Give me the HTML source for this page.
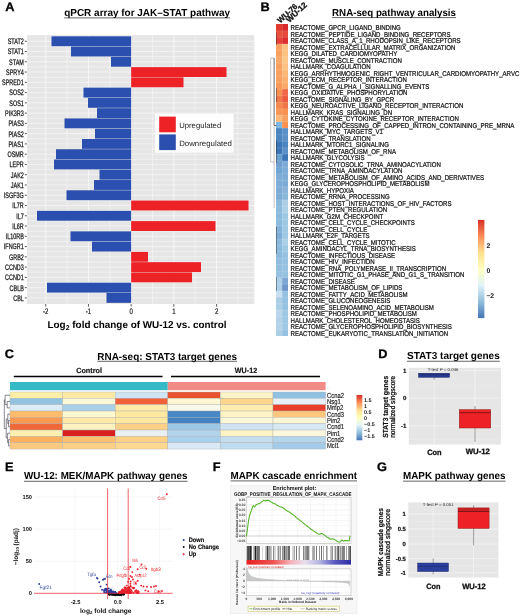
<!DOCTYPE html>
<html lang="en"><head><meta charset="utf-8"><title>Figure</title>
<style>html,body{margin:0;padding:0;background:#fff}body{width:520px;height:616px;overflow:hidden}svg{display:block;font-family:"Liberation Sans", Arial, Helvetica, sans-serif;text-rendering:geometricPrecision}</style>
</head><body>
<svg width="520" height="616" viewBox="0 0 520 616">
<rect x="0.00" y="0.00" width="520.00" height="616.00" fill="#fff"/>
<text x="5.20" y="11.40" font-size="12.3" font-weight="bold" textLength="9.24" lengthAdjust="spacingAndGlyphs" stroke="#000" stroke-width="0.3">A</text>
<text x="64.20" y="15.90" font-size="10.2" font-weight="bold" textLength="165.80" lengthAdjust="spacingAndGlyphs">qPCR array for JAK–STAT pathway</text>
<line x1="64.20" y1="17.90" x2="230.00" y2="17.90" stroke="#222" stroke-width="0.7"/>
<rect x="27.00" y="35.10" width="227.30" height="268.90" fill="#e6e6e6"/>
<line x1="24.40" y1="35.10" x2="24.40" y2="304.00" stroke="#f6f6f6" stroke-width="0.6"/>
<line x1="67.10" y1="35.10" x2="67.10" y2="304.00" stroke="#f6f6f6" stroke-width="0.6"/>
<line x1="109.80" y1="35.10" x2="109.80" y2="304.00" stroke="#f6f6f6" stroke-width="0.6"/>
<line x1="152.50" y1="35.10" x2="152.50" y2="304.00" stroke="#f6f6f6" stroke-width="0.6"/>
<line x1="195.20" y1="35.10" x2="195.20" y2="304.00" stroke="#f6f6f6" stroke-width="0.6"/>
<line x1="237.90" y1="35.10" x2="237.90" y2="304.00" stroke="#f6f6f6" stroke-width="0.6"/>
<line x1="45.75" y1="35.10" x2="45.75" y2="304.00" stroke="#fafafa" stroke-width="0.8"/>
<line x1="88.45" y1="35.10" x2="88.45" y2="304.00" stroke="#fafafa" stroke-width="0.8"/>
<line x1="131.15" y1="35.10" x2="131.15" y2="304.00" stroke="#fafafa" stroke-width="0.8"/>
<line x1="173.85" y1="35.10" x2="173.85" y2="304.00" stroke="#fafafa" stroke-width="0.8"/>
<line x1="216.55" y1="35.10" x2="216.55" y2="304.00" stroke="#fafafa" stroke-width="0.8"/>
<line x1="27.00" y1="41.25" x2="254.30" y2="41.25" stroke="#f8f8f8" stroke-width="0.7"/>
<line x1="27.00" y1="51.52" x2="254.30" y2="51.52" stroke="#f8f8f8" stroke-width="0.7"/>
<line x1="27.00" y1="46.38" x2="254.30" y2="46.38" stroke="#f6f6f6" stroke-width="0.6"/>
<line x1="27.00" y1="61.78" x2="254.30" y2="61.78" stroke="#f8f8f8" stroke-width="0.7"/>
<line x1="27.00" y1="56.65" x2="254.30" y2="56.65" stroke="#f6f6f6" stroke-width="0.6"/>
<line x1="27.00" y1="72.05" x2="254.30" y2="72.05" stroke="#f8f8f8" stroke-width="0.7"/>
<line x1="27.00" y1="66.92" x2="254.30" y2="66.92" stroke="#f6f6f6" stroke-width="0.6"/>
<line x1="27.00" y1="82.31" x2="254.30" y2="82.31" stroke="#f8f8f8" stroke-width="0.7"/>
<line x1="27.00" y1="77.18" x2="254.30" y2="77.18" stroke="#f6f6f6" stroke-width="0.6"/>
<line x1="27.00" y1="92.58" x2="254.30" y2="92.58" stroke="#f8f8f8" stroke-width="0.7"/>
<line x1="27.00" y1="87.45" x2="254.30" y2="87.45" stroke="#f6f6f6" stroke-width="0.6"/>
<line x1="27.00" y1="102.85" x2="254.30" y2="102.85" stroke="#f8f8f8" stroke-width="0.7"/>
<line x1="27.00" y1="97.71" x2="254.30" y2="97.71" stroke="#f6f6f6" stroke-width="0.6"/>
<line x1="27.00" y1="113.11" x2="254.30" y2="113.11" stroke="#f8f8f8" stroke-width="0.7"/>
<line x1="27.00" y1="107.98" x2="254.30" y2="107.98" stroke="#f6f6f6" stroke-width="0.6"/>
<line x1="27.00" y1="123.38" x2="254.30" y2="123.38" stroke="#f8f8f8" stroke-width="0.7"/>
<line x1="27.00" y1="118.25" x2="254.30" y2="118.25" stroke="#f6f6f6" stroke-width="0.6"/>
<line x1="27.00" y1="133.64" x2="254.30" y2="133.64" stroke="#f8f8f8" stroke-width="0.7"/>
<line x1="27.00" y1="128.51" x2="254.30" y2="128.51" stroke="#f6f6f6" stroke-width="0.6"/>
<line x1="27.00" y1="143.91" x2="254.30" y2="143.91" stroke="#f8f8f8" stroke-width="0.7"/>
<line x1="27.00" y1="138.78" x2="254.30" y2="138.78" stroke="#f6f6f6" stroke-width="0.6"/>
<line x1="27.00" y1="154.18" x2="254.30" y2="154.18" stroke="#f8f8f8" stroke-width="0.7"/>
<line x1="27.00" y1="149.04" x2="254.30" y2="149.04" stroke="#f6f6f6" stroke-width="0.6"/>
<line x1="27.00" y1="164.44" x2="254.30" y2="164.44" stroke="#f8f8f8" stroke-width="0.7"/>
<line x1="27.00" y1="159.31" x2="254.30" y2="159.31" stroke="#f6f6f6" stroke-width="0.6"/>
<line x1="27.00" y1="174.71" x2="254.30" y2="174.71" stroke="#f8f8f8" stroke-width="0.7"/>
<line x1="27.00" y1="169.57" x2="254.30" y2="169.57" stroke="#f6f6f6" stroke-width="0.6"/>
<line x1="27.00" y1="184.97" x2="254.30" y2="184.97" stroke="#f8f8f8" stroke-width="0.7"/>
<line x1="27.00" y1="179.84" x2="254.30" y2="179.84" stroke="#f6f6f6" stroke-width="0.6"/>
<line x1="27.00" y1="195.24" x2="254.30" y2="195.24" stroke="#f8f8f8" stroke-width="0.7"/>
<line x1="27.00" y1="190.11" x2="254.30" y2="190.11" stroke="#f6f6f6" stroke-width="0.6"/>
<line x1="27.00" y1="205.51" x2="254.30" y2="205.51" stroke="#f8f8f8" stroke-width="0.7"/>
<line x1="27.00" y1="200.37" x2="254.30" y2="200.37" stroke="#f6f6f6" stroke-width="0.6"/>
<line x1="27.00" y1="215.77" x2="254.30" y2="215.77" stroke="#f8f8f8" stroke-width="0.7"/>
<line x1="27.00" y1="210.64" x2="254.30" y2="210.64" stroke="#f6f6f6" stroke-width="0.6"/>
<line x1="27.00" y1="226.04" x2="254.30" y2="226.04" stroke="#f8f8f8" stroke-width="0.7"/>
<line x1="27.00" y1="220.91" x2="254.30" y2="220.91" stroke="#f6f6f6" stroke-width="0.6"/>
<line x1="27.00" y1="236.30" x2="254.30" y2="236.30" stroke="#f8f8f8" stroke-width="0.7"/>
<line x1="27.00" y1="231.17" x2="254.30" y2="231.17" stroke="#f6f6f6" stroke-width="0.6"/>
<line x1="27.00" y1="246.57" x2="254.30" y2="246.57" stroke="#f8f8f8" stroke-width="0.7"/>
<line x1="27.00" y1="241.44" x2="254.30" y2="241.44" stroke="#f6f6f6" stroke-width="0.6"/>
<line x1="27.00" y1="256.84" x2="254.30" y2="256.84" stroke="#f8f8f8" stroke-width="0.7"/>
<line x1="27.00" y1="251.70" x2="254.30" y2="251.70" stroke="#f6f6f6" stroke-width="0.6"/>
<line x1="27.00" y1="267.10" x2="254.30" y2="267.10" stroke="#f8f8f8" stroke-width="0.7"/>
<line x1="27.00" y1="261.97" x2="254.30" y2="261.97" stroke="#f6f6f6" stroke-width="0.6"/>
<line x1="27.00" y1="277.37" x2="254.30" y2="277.37" stroke="#f8f8f8" stroke-width="0.7"/>
<line x1="27.00" y1="272.24" x2="254.30" y2="272.24" stroke="#f6f6f6" stroke-width="0.6"/>
<line x1="27.00" y1="287.63" x2="254.30" y2="287.63" stroke="#f8f8f8" stroke-width="0.7"/>
<line x1="27.00" y1="282.50" x2="254.30" y2="282.50" stroke="#f6f6f6" stroke-width="0.6"/>
<line x1="27.00" y1="297.90" x2="254.30" y2="297.90" stroke="#f8f8f8" stroke-width="0.7"/>
<line x1="27.00" y1="292.77" x2="254.30" y2="292.77" stroke="#f6f6f6" stroke-width="0.6"/>
<rect x="51.50" y="36.32" width="79.65" height="9.87" fill="#2b4fae"/>
<text x="23.80" y="44.15" font-size="8" text-anchor="end" fill="#111" textLength="16.12" lengthAdjust="spacingAndGlyphs" stroke="#111" stroke-width="0.25">STAT2</text>
<line x1="24.80" y1="41.25" x2="26.90" y2="41.25" stroke="#333" stroke-width="0.8"/>
<rect x="71.00" y="46.58" width="60.15" height="9.87" fill="#2b4fae"/>
<text x="23.80" y="54.42" font-size="8" text-anchor="end" fill="#111" textLength="16.12" lengthAdjust="spacingAndGlyphs" stroke="#111" stroke-width="0.25">STAT1</text>
<line x1="24.80" y1="51.52" x2="26.90" y2="51.52" stroke="#333" stroke-width="0.8"/>
<rect x="111.00" y="56.85" width="20.15" height="9.87" fill="#2b4fae"/>
<text x="23.80" y="64.68" font-size="8" text-anchor="end" fill="#111" textLength="14.71" lengthAdjust="spacingAndGlyphs" stroke="#111" stroke-width="0.25">STAM</text>
<line x1="24.80" y1="61.78" x2="26.90" y2="61.78" stroke="#333" stroke-width="0.8"/>
<rect x="131.15" y="67.12" width="95.35" height="9.87" fill="#ec2227"/>
<text x="23.80" y="74.95" font-size="8" text-anchor="end" fill="#111" textLength="17.74" lengthAdjust="spacingAndGlyphs" stroke="#111" stroke-width="0.25">SPRY4</text>
<line x1="24.80" y1="72.05" x2="26.90" y2="72.05" stroke="#333" stroke-width="0.8"/>
<rect x="131.15" y="77.38" width="52.35" height="9.87" fill="#ec2227"/>
<text x="23.80" y="85.21" font-size="8" text-anchor="end" fill="#111" textLength="21.77" lengthAdjust="spacingAndGlyphs" stroke="#111" stroke-width="0.25">SPRED1</text>
<line x1="24.80" y1="82.31" x2="26.90" y2="82.31" stroke="#333" stroke-width="0.8"/>
<rect x="83.50" y="87.65" width="47.65" height="9.87" fill="#2b4fae"/>
<text x="23.80" y="95.48" font-size="8" text-anchor="end" fill="#111" textLength="14.51" lengthAdjust="spacingAndGlyphs" stroke="#111" stroke-width="0.25">SOS2</text>
<line x1="24.80" y1="92.58" x2="26.90" y2="92.58" stroke="#333" stroke-width="0.8"/>
<rect x="88.00" y="97.91" width="43.15" height="9.87" fill="#2b4fae"/>
<text x="23.80" y="105.75" font-size="8" text-anchor="end" fill="#111" textLength="14.51" lengthAdjust="spacingAndGlyphs" stroke="#111" stroke-width="0.25">SOS1</text>
<line x1="24.80" y1="102.85" x2="26.90" y2="102.85" stroke="#333" stroke-width="0.8"/>
<rect x="97.00" y="108.18" width="34.15" height="9.87" fill="#2b4fae"/>
<text x="23.80" y="116.01" font-size="8" text-anchor="end" fill="#111" textLength="18.75" lengthAdjust="spacingAndGlyphs" stroke="#111" stroke-width="0.25">PIK3R3</text>
<line x1="24.80" y1="113.11" x2="26.90" y2="113.11" stroke="#333" stroke-width="0.8"/>
<rect x="64.50" y="118.44" width="66.65" height="9.87" fill="#2b4fae"/>
<text x="23.80" y="126.28" font-size="8" text-anchor="end" fill="#111" textLength="15.42" lengthAdjust="spacingAndGlyphs" stroke="#111" stroke-width="0.25">PIAS3</text>
<line x1="24.80" y1="123.38" x2="26.90" y2="123.38" stroke="#333" stroke-width="0.8"/>
<rect x="95.00" y="128.71" width="36.15" height="9.87" fill="#2b4fae"/>
<text x="23.80" y="136.54" font-size="8" text-anchor="end" fill="#111" textLength="15.42" lengthAdjust="spacingAndGlyphs" stroke="#111" stroke-width="0.25">PIAS2</text>
<line x1="24.80" y1="133.64" x2="26.90" y2="133.64" stroke="#333" stroke-width="0.8"/>
<rect x="82.00" y="138.98" width="49.15" height="9.87" fill="#2b4fae"/>
<text x="23.80" y="146.81" font-size="8" text-anchor="end" fill="#111" textLength="15.42" lengthAdjust="spacingAndGlyphs" stroke="#111" stroke-width="0.25">PIAS1</text>
<line x1="24.80" y1="143.91" x2="26.90" y2="143.91" stroke="#333" stroke-width="0.8"/>
<rect x="56.00" y="149.24" width="75.15" height="9.87" fill="#2b4fae"/>
<text x="23.80" y="157.08" font-size="8" text-anchor="end" fill="#111" textLength="16.32" lengthAdjust="spacingAndGlyphs" stroke="#111" stroke-width="0.25">OSMR</text>
<line x1="24.80" y1="154.18" x2="26.90" y2="154.18" stroke="#333" stroke-width="0.8"/>
<rect x="54.00" y="159.51" width="77.15" height="9.87" fill="#2b4fae"/>
<text x="23.80" y="167.34" font-size="8" text-anchor="end" fill="#111" textLength="14.21" lengthAdjust="spacingAndGlyphs" stroke="#111" stroke-width="0.25">LEPR</text>
<line x1="24.80" y1="164.44" x2="26.90" y2="164.44" stroke="#333" stroke-width="0.8"/>
<rect x="99.50" y="169.78" width="31.65" height="9.87" fill="#2b4fae"/>
<text x="23.80" y="177.61" font-size="8" text-anchor="end" fill="#111" textLength="13.00" lengthAdjust="spacingAndGlyphs" stroke="#111" stroke-width="0.25">JAK2</text>
<line x1="24.80" y1="174.71" x2="26.90" y2="174.71" stroke="#333" stroke-width="0.8"/>
<rect x="94.00" y="180.04" width="37.15" height="9.87" fill="#2b4fae"/>
<text x="23.80" y="187.87" font-size="8" text-anchor="end" fill="#111" textLength="13.00" lengthAdjust="spacingAndGlyphs" stroke="#111" stroke-width="0.25">JAK1</text>
<line x1="24.80" y1="184.97" x2="26.90" y2="184.97" stroke="#333" stroke-width="0.8"/>
<rect x="66.50" y="190.31" width="64.65" height="9.87" fill="#2b4fae"/>
<text x="23.80" y="198.14" font-size="8" text-anchor="end" fill="#111" textLength="19.95" lengthAdjust="spacingAndGlyphs" stroke="#111" stroke-width="0.25">ISGF3G</text>
<line x1="24.80" y1="195.24" x2="26.90" y2="195.24" stroke="#333" stroke-width="0.8"/>
<rect x="131.15" y="200.57" width="117.35" height="9.87" fill="#ec2227"/>
<text x="23.80" y="208.41" font-size="8" text-anchor="end" fill="#111" textLength="11.49" lengthAdjust="spacingAndGlyphs" stroke="#111" stroke-width="0.25">IL7R</text>
<line x1="24.80" y1="205.51" x2="26.90" y2="205.51" stroke="#333" stroke-width="0.8"/>
<rect x="37.00" y="210.84" width="94.15" height="9.87" fill="#2b4fae"/>
<text x="23.80" y="218.67" font-size="8" text-anchor="end" fill="#111" textLength="7.56" lengthAdjust="spacingAndGlyphs" stroke="#111" stroke-width="0.25">IL7</text>
<line x1="24.80" y1="215.77" x2="26.90" y2="215.77" stroke="#333" stroke-width="0.8"/>
<rect x="131.15" y="221.11" width="84.35" height="9.87" fill="#ec2227"/>
<text x="23.80" y="228.94" font-size="8" text-anchor="end" fill="#111" textLength="11.49" lengthAdjust="spacingAndGlyphs" stroke="#111" stroke-width="0.25">IL6R</text>
<line x1="24.80" y1="226.04" x2="26.90" y2="226.04" stroke="#333" stroke-width="0.8"/>
<rect x="70.50" y="231.37" width="60.65" height="9.87" fill="#2b4fae"/>
<text x="23.80" y="239.20" font-size="8" text-anchor="end" fill="#111" textLength="18.15" lengthAdjust="spacingAndGlyphs" stroke="#111" stroke-width="0.25">IL10RB</text>
<line x1="24.80" y1="236.30" x2="26.90" y2="236.30" stroke="#333" stroke-width="0.8"/>
<rect x="92.00" y="241.64" width="39.15" height="9.87" fill="#2b4fae"/>
<text x="23.80" y="249.47" font-size="8" text-anchor="end" fill="#111" textLength="19.95" lengthAdjust="spacingAndGlyphs" stroke="#111" stroke-width="0.25">IFNGR1</text>
<line x1="24.80" y1="246.57" x2="26.90" y2="246.57" stroke="#333" stroke-width="0.8"/>
<rect x="131.15" y="251.90" width="16.85" height="9.87" fill="#ec2227"/>
<text x="23.80" y="259.74" font-size="8" text-anchor="end" fill="#111" textLength="14.81" lengthAdjust="spacingAndGlyphs" stroke="#111" stroke-width="0.25">GRB2</text>
<line x1="24.80" y1="256.84" x2="26.90" y2="256.84" stroke="#333" stroke-width="0.8"/>
<rect x="131.15" y="262.17" width="69.85" height="9.87" fill="#ec2227"/>
<text x="23.80" y="270.00" font-size="8" text-anchor="end" fill="#111" textLength="18.74" lengthAdjust="spacingAndGlyphs" stroke="#111" stroke-width="0.25">CCND3</text>
<line x1="24.80" y1="267.10" x2="26.90" y2="267.10" stroke="#333" stroke-width="0.8"/>
<rect x="131.15" y="272.44" width="60.85" height="9.87" fill="#ec2227"/>
<text x="23.80" y="280.27" font-size="8" text-anchor="end" fill="#111" textLength="18.74" lengthAdjust="spacingAndGlyphs" stroke="#111" stroke-width="0.25">CCND1</text>
<line x1="24.80" y1="277.37" x2="26.90" y2="277.37" stroke="#333" stroke-width="0.8"/>
<rect x="47.00" y="282.70" width="84.15" height="9.87" fill="#2b4fae"/>
<text x="23.80" y="290.53" font-size="8" text-anchor="end" fill="#111" textLength="14.21" lengthAdjust="spacingAndGlyphs" stroke="#111" stroke-width="0.25">CBLB</text>
<line x1="24.80" y1="287.63" x2="26.90" y2="287.63" stroke="#333" stroke-width="0.8"/>
<rect x="106.50" y="292.97" width="24.65" height="9.87" fill="#2b4fae"/>
<text x="23.80" y="300.80" font-size="8" text-anchor="end" fill="#111" textLength="10.58" lengthAdjust="spacingAndGlyphs" stroke="#111" stroke-width="0.25">CBL</text>
<line x1="24.80" y1="297.90" x2="26.90" y2="297.90" stroke="#333" stroke-width="0.8"/>
<line x1="45.75" y1="304.00" x2="45.75" y2="306.60" stroke="#333" stroke-width="0.8"/>
<text x="45.75" y="314.10" font-size="8" text-anchor="middle" fill="#111" textLength="5.34" lengthAdjust="spacingAndGlyphs" stroke="#111" stroke-width="0.2">-2</text>
<line x1="88.45" y1="304.00" x2="88.45" y2="306.60" stroke="#333" stroke-width="0.8"/>
<text x="88.45" y="314.10" font-size="8" text-anchor="middle" fill="#111" textLength="5.34" lengthAdjust="spacingAndGlyphs" stroke="#111" stroke-width="0.2">-1</text>
<line x1="131.15" y1="304.00" x2="131.15" y2="306.60" stroke="#333" stroke-width="0.8"/>
<text x="131.15" y="314.10" font-size="8" text-anchor="middle" fill="#111" textLength="3.34" lengthAdjust="spacingAndGlyphs" stroke="#111" stroke-width="0.2">0</text>
<line x1="173.85" y1="304.00" x2="173.85" y2="306.60" stroke="#333" stroke-width="0.8"/>
<text x="173.85" y="314.10" font-size="8" text-anchor="middle" fill="#111" textLength="3.34" lengthAdjust="spacingAndGlyphs" stroke="#111" stroke-width="0.2">1</text>
<line x1="216.55" y1="304.00" x2="216.55" y2="306.60" stroke="#333" stroke-width="0.8"/>
<text x="216.55" y="314.10" font-size="8" text-anchor="middle" fill="#111" textLength="3.34" lengthAdjust="spacingAndGlyphs" stroke="#111" stroke-width="0.2">2</text>
<text x="47.5" y="327.6" font-size="10" font-weight="bold" textLength="179" lengthAdjust="spacingAndGlyphs">Log<tspan font-size="7" dy="2.2">2</tspan><tspan dy="-2.2"> fold change of WU-12 vs. control</tspan></text>
<rect x="155.00" y="113.80" width="78.50" height="38.80" fill="#fdfdfd"/>
<rect x="159.20" y="116.60" width="16.60" height="15.70" fill="#ec2227"/>
<rect x="159.20" y="134.40" width="16.60" height="15.70" fill="#2b4fae"/>
<text x="179.20" y="128.20" font-size="7.8" fill="#222" textLength="42.00" lengthAdjust="spacingAndGlyphs">Upregulated</text>
<text x="179.20" y="146.00" font-size="7.8" fill="#222" textLength="52.70" lengthAdjust="spacingAndGlyphs">Downregulated</text>
<text x="260.40" y="11.20" font-size="12.3" font-weight="bold" textLength="9.24" lengthAdjust="spacingAndGlyphs" stroke="#000" stroke-width="0.3">B</text>
<text x="332.10" y="15.80" font-size="10.2" font-weight="bold" textLength="123.90" lengthAdjust="spacingAndGlyphs">RNA-seq pathway analysis</text>
<line x1="332.10" y1="17.60" x2="456.00" y2="17.60" stroke="#222" stroke-width="0.7"/>
<g shape-rendering="crispEdges">
<rect x="276.40" y="24.30" width="6.00" height="6.55" fill="#e03a30"/>
<rect x="282.40" y="24.30" width="6.00" height="6.55" fill="#d8282a"/>
<rect x="276.40" y="30.80" width="6.00" height="6.55" fill="#e8503c"/>
<rect x="282.40" y="30.80" width="6.00" height="6.55" fill="#e4483a"/>
<rect x="276.40" y="37.30" width="6.00" height="6.55" fill="#e44038"/>
<rect x="282.40" y="37.30" width="6.00" height="6.55" fill="#dc3030"/>
<rect x="276.40" y="43.80" width="6.00" height="6.55" fill="#f8a060"/>
<rect x="282.40" y="43.80" width="6.00" height="6.55" fill="#fcc080"/>
<rect x="276.40" y="50.30" width="6.00" height="6.55" fill="#f8a060"/>
<rect x="282.40" y="50.30" width="6.00" height="6.55" fill="#fcc080"/>
<rect x="276.40" y="56.80" width="6.00" height="6.55" fill="#f8a868"/>
<rect x="282.40" y="56.80" width="6.00" height="6.55" fill="#fcc888"/>
<rect x="276.40" y="63.30" width="6.00" height="6.55" fill="#f8a060"/>
<rect x="282.40" y="63.30" width="6.00" height="6.55" fill="#fcc080"/>
<rect x="276.40" y="69.80" width="6.00" height="6.55" fill="#f8a060"/>
<rect x="282.40" y="69.80" width="6.00" height="6.55" fill="#fcb878"/>
<rect x="276.40" y="76.30" width="6.00" height="6.55" fill="#f8a060"/>
<rect x="282.40" y="76.30" width="6.00" height="6.55" fill="#fcb070"/>
<rect x="276.40" y="82.80" width="6.00" height="6.55" fill="#f89858"/>
<rect x="282.40" y="82.80" width="6.00" height="6.55" fill="#f8a868"/>
<rect x="276.40" y="89.30" width="6.00" height="6.55" fill="#f89050"/>
<rect x="282.40" y="89.30" width="6.00" height="6.55" fill="#f06848"/>
<rect x="276.40" y="95.80" width="6.00" height="6.55" fill="#f07848"/>
<rect x="282.40" y="95.80" width="6.00" height="6.55" fill="#ec5840"/>
<rect x="276.40" y="102.30" width="6.00" height="6.55" fill="#f48850"/>
<rect x="282.40" y="102.30" width="6.00" height="6.55" fill="#f07848"/>
<rect x="276.40" y="108.80" width="6.00" height="6.55" fill="#f89858"/>
<rect x="282.40" y="108.80" width="6.00" height="6.55" fill="#f89050"/>
<rect x="276.40" y="115.30" width="6.00" height="6.55" fill="#fcb878"/>
<rect x="282.40" y="115.30" width="6.00" height="6.55" fill="#f8a060"/>
<rect x="276.40" y="121.80" width="6.00" height="6.55" fill="#7ab8e4"/>
<rect x="282.40" y="121.80" width="6.00" height="6.55" fill="#f89050"/>
<rect x="276.40" y="128.30" width="6.00" height="6.55" fill="#4a86c0"/>
<rect x="282.40" y="128.30" width="6.00" height="6.55" fill="#5a90c8"/>
<rect x="276.40" y="134.80" width="6.00" height="6.55" fill="#4a86c0"/>
<rect x="282.40" y="134.80" width="6.00" height="6.55" fill="#5a90c8"/>
<rect x="276.40" y="141.30" width="6.00" height="6.55" fill="#3a76b8"/>
<rect x="282.40" y="141.30" width="6.00" height="6.55" fill="#4a86c0"/>
<rect x="276.40" y="147.80" width="6.00" height="6.55" fill="#3a76b8"/>
<rect x="282.40" y="147.80" width="6.00" height="6.55" fill="#5a90c8"/>
<rect x="276.40" y="154.30" width="6.00" height="6.55" fill="#6aa0d0"/>
<rect x="282.40" y="154.30" width="6.00" height="6.55" fill="#3a76b8"/>
<rect x="276.40" y="160.80" width="6.00" height="6.55" fill="#6f9ecf"/>
<rect x="282.40" y="160.80" width="6.00" height="6.55" fill="#7dacd6"/>
<rect x="276.40" y="167.30" width="6.00" height="6.55" fill="#6fa5d3"/>
<rect x="282.40" y="167.30" width="6.00" height="6.55" fill="#7dacd6"/>
<rect x="276.40" y="173.80" width="6.00" height="6.55" fill="#7dacd6"/>
<rect x="282.40" y="173.80" width="6.00" height="6.55" fill="#7dacd6"/>
<rect x="276.40" y="180.30" width="6.00" height="6.55" fill="#7dacd6"/>
<rect x="282.40" y="180.30" width="6.00" height="6.55" fill="#7dacd6"/>
<rect x="276.40" y="186.80" width="6.00" height="6.55" fill="#7dacd6"/>
<rect x="282.40" y="186.80" width="6.00" height="6.55" fill="#8bb3da"/>
<rect x="276.40" y="193.30" width="6.00" height="6.55" fill="#7dacd6"/>
<rect x="282.40" y="193.30" width="6.00" height="6.55" fill="#8bb7db"/>
<rect x="276.40" y="199.80" width="6.00" height="6.55" fill="#8bbadd"/>
<rect x="282.40" y="199.80" width="6.00" height="6.55" fill="#accfe8"/>
<rect x="276.40" y="206.30" width="6.00" height="6.55" fill="#8bbadd"/>
<rect x="282.40" y="206.30" width="6.00" height="6.55" fill="#accfe8"/>
<rect x="276.40" y="212.80" width="6.00" height="6.55" fill="#8bbadd"/>
<rect x="282.40" y="212.80" width="6.00" height="6.55" fill="#9ec8e4"/>
<rect x="276.40" y="219.30" width="6.00" height="6.55" fill="#8bbadd"/>
<rect x="282.40" y="219.30" width="6.00" height="6.55" fill="#9ec8e4"/>
<rect x="276.40" y="225.80" width="6.00" height="6.55" fill="#84b3da"/>
<rect x="282.40" y="225.80" width="6.00" height="6.55" fill="#9ec8e4"/>
<rect x="276.40" y="232.30" width="6.00" height="6.55" fill="#7dacd6"/>
<rect x="282.40" y="232.30" width="6.00" height="6.55" fill="#9ec8e4"/>
<rect x="276.40" y="238.80" width="6.00" height="6.55" fill="#8bbadd"/>
<rect x="282.40" y="238.80" width="6.00" height="6.55" fill="#accfe8"/>
<rect x="276.40" y="245.30" width="6.00" height="6.55" fill="#8bbadd"/>
<rect x="282.40" y="245.30" width="6.00" height="6.55" fill="#9ec8e4"/>
<rect x="276.40" y="251.80" width="6.00" height="6.55" fill="#8bbadd"/>
<rect x="282.40" y="251.80" width="6.00" height="6.55" fill="#97c1e1"/>
<rect x="276.40" y="258.30" width="6.00" height="6.55" fill="#91bedf"/>
<rect x="282.40" y="258.30" width="6.00" height="6.55" fill="#97c1e1"/>
<rect x="276.40" y="264.80" width="6.00" height="6.55" fill="#91bedf"/>
<rect x="282.40" y="264.80" width="6.00" height="6.55" fill="#97c1e1"/>
<rect x="276.40" y="271.30" width="6.00" height="6.55" fill="#97c1e1"/>
<rect x="282.40" y="271.30" width="6.00" height="6.55" fill="#97c1e1"/>
<rect x="276.40" y="277.80" width="6.00" height="6.55" fill="#accfe8"/>
<rect x="282.40" y="277.80" width="6.00" height="6.55" fill="#7da5d3"/>
<rect x="276.40" y="284.30" width="6.00" height="6.55" fill="#accfe8"/>
<rect x="282.40" y="284.30" width="6.00" height="6.55" fill="#6f97cc"/>
<rect x="276.40" y="290.80" width="6.00" height="6.55" fill="#c8e1f2"/>
<rect x="282.40" y="290.80" width="6.00" height="6.55" fill="#97c1e1"/>
<rect x="276.40" y="297.30" width="6.00" height="6.55" fill="#accfe8"/>
<rect x="282.40" y="297.30" width="6.00" height="6.55" fill="#97c1e1"/>
<rect x="276.40" y="303.80" width="6.00" height="6.55" fill="#accfe8"/>
<rect x="282.40" y="303.80" width="6.00" height="6.55" fill="#97c1e1"/>
<rect x="276.40" y="310.30" width="6.00" height="6.55" fill="#bad6eb"/>
<rect x="282.40" y="310.30" width="6.00" height="6.55" fill="#9ec8e4"/>
<rect x="276.40" y="316.80" width="6.00" height="6.55" fill="#b3d3e9"/>
<rect x="282.40" y="316.80" width="6.00" height="6.55" fill="#9ec8e4"/>
<rect x="276.40" y="323.30" width="6.00" height="6.55" fill="#b3d3e9"/>
<rect x="282.40" y="323.30" width="6.00" height="6.55" fill="#9ec8e4"/>
<rect x="276.40" y="329.80" width="6.00" height="6.55" fill="#accfe8"/>
<rect x="282.40" y="329.80" width="6.00" height="6.55" fill="#97c1e1"/>
</g>
<g stroke="#fff" stroke-opacity="0.28" stroke-width="0.5">
<line x1="276.4" y1="30.80" x2="288.4" y2="30.80"/>
<line x1="276.4" y1="37.30" x2="288.4" y2="37.30"/>
<line x1="276.4" y1="43.80" x2="288.4" y2="43.80"/>
<line x1="276.4" y1="50.30" x2="288.4" y2="50.30"/>
<line x1="276.4" y1="56.80" x2="288.4" y2="56.80"/>
<line x1="276.4" y1="63.30" x2="288.4" y2="63.30"/>
<line x1="276.4" y1="69.80" x2="288.4" y2="69.80"/>
<line x1="276.4" y1="76.30" x2="288.4" y2="76.30"/>
<line x1="276.4" y1="82.80" x2="288.4" y2="82.80"/>
<line x1="276.4" y1="89.30" x2="288.4" y2="89.30"/>
<line x1="276.4" y1="95.80" x2="288.4" y2="95.80"/>
<line x1="276.4" y1="102.30" x2="288.4" y2="102.30"/>
<line x1="276.4" y1="108.80" x2="288.4" y2="108.80"/>
<line x1="276.4" y1="115.30" x2="288.4" y2="115.30"/>
<line x1="276.4" y1="121.80" x2="288.4" y2="121.80"/>
<line x1="276.4" y1="128.30" x2="288.4" y2="128.30"/>
<line x1="276.4" y1="134.80" x2="288.4" y2="134.80"/>
<line x1="276.4" y1="141.30" x2="288.4" y2="141.30"/>
<line x1="276.4" y1="147.80" x2="288.4" y2="147.80"/>
<line x1="276.4" y1="154.30" x2="288.4" y2="154.30"/>
<line x1="276.4" y1="160.80" x2="288.4" y2="160.80"/>
<line x1="276.4" y1="167.30" x2="288.4" y2="167.30"/>
<line x1="276.4" y1="173.80" x2="288.4" y2="173.80"/>
<line x1="276.4" y1="180.30" x2="288.4" y2="180.30"/>
<line x1="276.4" y1="186.80" x2="288.4" y2="186.80"/>
<line x1="276.4" y1="193.30" x2="288.4" y2="193.30"/>
<line x1="276.4" y1="199.80" x2="288.4" y2="199.80"/>
<line x1="276.4" y1="206.30" x2="288.4" y2="206.30"/>
<line x1="276.4" y1="212.80" x2="288.4" y2="212.80"/>
<line x1="276.4" y1="219.30" x2="288.4" y2="219.30"/>
<line x1="276.4" y1="225.80" x2="288.4" y2="225.80"/>
<line x1="276.4" y1="232.30" x2="288.4" y2="232.30"/>
<line x1="276.4" y1="238.80" x2="288.4" y2="238.80"/>
<line x1="276.4" y1="245.30" x2="288.4" y2="245.30"/>
<line x1="276.4" y1="251.80" x2="288.4" y2="251.80"/>
<line x1="276.4" y1="258.30" x2="288.4" y2="258.30"/>
<line x1="276.4" y1="264.80" x2="288.4" y2="264.80"/>
<line x1="276.4" y1="271.30" x2="288.4" y2="271.30"/>
<line x1="276.4" y1="277.80" x2="288.4" y2="277.80"/>
<line x1="276.4" y1="284.30" x2="288.4" y2="284.30"/>
<line x1="276.4" y1="290.80" x2="288.4" y2="290.80"/>
<line x1="276.4" y1="297.30" x2="288.4" y2="297.30"/>
<line x1="276.4" y1="303.80" x2="288.4" y2="303.80"/>
<line x1="276.4" y1="310.30" x2="288.4" y2="310.30"/>
<line x1="276.4" y1="316.80" x2="288.4" y2="316.80"/>
<line x1="276.4" y1="323.30" x2="288.4" y2="323.30"/>
<line x1="276.4" y1="329.80" x2="288.4" y2="329.80"/>
<line x1="282.4" y1="24.3" x2="282.4" y2="336.3"/>
</g>
<g stroke="#111" stroke-width="0.22">
<text x="290.60" y="30.05" font-size="7" fill="#111" textLength="110.21" lengthAdjust="spacingAndGlyphs">REACTOME_GPCR_LIGAND_BINDING</text>
<text x="290.60" y="36.55" font-size="7" fill="#111" textLength="159.85" lengthAdjust="spacingAndGlyphs">REACTOME_PEPTIDE_LIGAND_BINDING_RECEPTORS</text>
<text x="290.60" y="43.05" font-size="7" fill="#111" textLength="170.02" lengthAdjust="spacingAndGlyphs">REACTOME_CLASS_A_1_RHODOPSIN_LIKE_RECEPTORS</text>
<text x="290.60" y="49.55" font-size="7" fill="#111" textLength="164.81" lengthAdjust="spacingAndGlyphs">REACTOME_EXTRACELLULAR_MATRIX_ORGANIZATION</text>
<text x="290.60" y="56.05" font-size="7" fill="#111" textLength="106.60" lengthAdjust="spacingAndGlyphs">KEGG_DILATED_CARDIOMYOPATHY</text>
<text x="290.60" y="62.55" font-size="7" fill="#111" textLength="111.22" lengthAdjust="spacingAndGlyphs">REACTOME_MUSCLE_CONTRACTION</text>
<text x="290.60" y="69.05" font-size="7" fill="#111" textLength="80.09" lengthAdjust="spacingAndGlyphs">HALLMARK_COAGULATION</text>
<text x="290.60" y="75.55" font-size="7" fill="#111" textLength="228.76" lengthAdjust="spacingAndGlyphs">KEGG_ARRHYTHMOGENIC_RIGHT_VENTRICULAR_CARDIOMYOPATHY_ARVC</text>
<text x="290.60" y="82.05" font-size="7" fill="#111" textLength="116.30" lengthAdjust="spacingAndGlyphs">KEGG_ECM_RECEPTOR_INTERACTION</text>
<text x="290.60" y="88.55" font-size="7" fill="#111" textLength="138.66" lengthAdjust="spacingAndGlyphs">REACTOME_G_ALPHA_I_SIGNALLING_EVENTS</text>
<text x="290.60" y="95.05" font-size="7" fill="#111" textLength="116.76" lengthAdjust="spacingAndGlyphs">KEGG_OXIDATIVE_PHOSPHORYLATION</text>
<text x="290.60" y="101.55" font-size="7" fill="#111" textLength="103.45" lengthAdjust="spacingAndGlyphs">REACTOME_SIGNALING_BY_GPCR</text>
<text x="290.60" y="108.05" font-size="7" fill="#111" textLength="172.82" lengthAdjust="spacingAndGlyphs">KEGG_NEUROACTIVE_LIGAND_RECEPTOR_INTERACTION</text>
<text x="290.60" y="114.55" font-size="7" fill="#111" textLength="101.54" lengthAdjust="spacingAndGlyphs">HALLMARK_KRAS_SIGNALING_DN</text>
<text x="290.60" y="121.05" font-size="7" fill="#111" textLength="168.20" lengthAdjust="spacingAndGlyphs">KEGG_CYTOKINE_CYTOKINE_RECEPTOR_INTERACTION</text>
<text x="290.60" y="127.55" font-size="7" fill="#111" textLength="223.80" lengthAdjust="spacingAndGlyphs">REACTOME_PROCESSING_OF_CAPPED_INTRON_CONTAINING_PRE_MRNA</text>
<text x="290.60" y="134.05" font-size="7" fill="#111" textLength="92.28" lengthAdjust="spacingAndGlyphs">HALLMARK_MYC_TARGETS_V1</text>
<text x="290.60" y="140.55" font-size="7" fill="#111" textLength="79.98" lengthAdjust="spacingAndGlyphs">REACTOME_TRANSLATION</text>
<text x="290.60" y="147.05" font-size="7" fill="#111" textLength="98.37" lengthAdjust="spacingAndGlyphs">HALLMARK_MTORC1_SIGNALING</text>
<text x="290.60" y="153.55" font-size="7" fill="#111" textLength="105.36" lengthAdjust="spacingAndGlyphs">REACTOME_METABOLISM_OF_RNA</text>
<text x="290.60" y="160.05" font-size="7" fill="#111" textLength="73.90" lengthAdjust="spacingAndGlyphs">HALLMARK_GLYCOLYSIS</text>
<text x="290.60" y="166.55" font-size="7" fill="#111" textLength="150.26" lengthAdjust="spacingAndGlyphs">REACTOME_CYTOSOLIC_TRNA_AMINOACYLATION</text>
<text x="290.60" y="173.05" font-size="7" fill="#111" textLength="111.79" lengthAdjust="spacingAndGlyphs">REACTOME_TRNA_AMINOACYLATION</text>
<text x="290.60" y="179.55" font-size="7" fill="#111" textLength="193.47" lengthAdjust="spacingAndGlyphs">REACTOME_METABOLISM_OF_AMINO_ACIDS_AND_DERIVATIVES</text>
<text x="290.60" y="186.05" font-size="7" fill="#111" textLength="138.87" lengthAdjust="spacingAndGlyphs">KEGG_GLYCEROPHOSPHOLIPID_METABOLISM</text>
<text x="290.60" y="192.55" font-size="7" fill="#111" textLength="63.29" lengthAdjust="spacingAndGlyphs">HALLMARK_HYPOXIA</text>
<text x="290.60" y="199.05" font-size="7" fill="#111" textLength="99.04" lengthAdjust="spacingAndGlyphs">REACTOME_RRNA_PROCESSING</text>
<text x="290.60" y="205.55" font-size="7" fill="#111" textLength="160.86" lengthAdjust="spacingAndGlyphs">REACTOME_HOST_INTERACTIONS_OF_HIV_FACTORS</text>
<text x="290.60" y="212.05" font-size="7" fill="#111" textLength="96.56" lengthAdjust="spacingAndGlyphs">REACTOME_PTEN_REGULATION</text>
<text x="290.60" y="218.55" font-size="7" fill="#111" textLength="92.73" lengthAdjust="spacingAndGlyphs">HALLMARK_G2M_CHECKPOINT</text>
<text x="290.60" y="225.05" font-size="7" fill="#111" textLength="124.10" lengthAdjust="spacingAndGlyphs">REACTOME_CELL_CYCLE_CHECKPOINTS</text>
<text x="290.60" y="231.55" font-size="7" fill="#111" textLength="76.72" lengthAdjust="spacingAndGlyphs">REACTOME_CELL_CYCLE</text>
<text x="290.60" y="238.05" font-size="7" fill="#111" textLength="79.08" lengthAdjust="spacingAndGlyphs">HALLMARK_E2F_TARGETS</text>
<text x="290.60" y="244.55" font-size="7" fill="#111" textLength="105.03" lengthAdjust="spacingAndGlyphs">REACTOME_CELL_CYCLE_MITOTIC</text>
<text x="290.60" y="251.05" font-size="7" fill="#111" textLength="125.22" lengthAdjust="spacingAndGlyphs">KEGG_AMINOACYL_TRNA_BIOSYNTHESIS</text>
<text x="290.60" y="257.55" font-size="7" fill="#111" textLength="104.46" lengthAdjust="spacingAndGlyphs">REACTOME_INFECTIOUS_DISEASE</text>
<text x="290.60" y="264.05" font-size="7" fill="#111" textLength="84.15" lengthAdjust="spacingAndGlyphs">REACTOME_HIV_INFECTION</text>
<text x="290.60" y="270.55" font-size="7" fill="#111" textLength="155.45" lengthAdjust="spacingAndGlyphs">REACTOME_RNA_POLYMERASE_II_TRANSCRIPTION</text>
<text x="290.60" y="277.05" font-size="7" fill="#111" textLength="173.73" lengthAdjust="spacingAndGlyphs">REACTOME_MITOTIC_G1_PHASE_AND_G1_S_TRANSITION</text>
<text x="290.60" y="283.55" font-size="7" fill="#111" textLength="64.19" lengthAdjust="spacingAndGlyphs">REACTOME_DISEASE</text>
<text x="290.60" y="290.05" font-size="7" fill="#111" textLength="111.79" lengthAdjust="spacingAndGlyphs">REACTOME_METABOLISM_OF_LIPIDS</text>
<text x="290.60" y="296.55" font-size="7" fill="#111" textLength="117.09" lengthAdjust="spacingAndGlyphs">REACTOME_FATTY_ACID_METABOLISM</text>
<text x="290.60" y="303.05" font-size="7" fill="#111" textLength="99.72" lengthAdjust="spacingAndGlyphs">REACTOME_GLUCONEOGENESIS</text>
<text x="290.60" y="309.55" font-size="7" fill="#111" textLength="143.27" lengthAdjust="spacingAndGlyphs">REACTOME_SELENOAMINO_ACID_METABOLISM</text>
<text x="290.60" y="316.05" font-size="7" fill="#111" textLength="126.34" lengthAdjust="spacingAndGlyphs">REACTOME_PHOSPHOLIPID_METABOLISM</text>
<text x="290.60" y="322.55" font-size="7" fill="#111" textLength="129.17" lengthAdjust="spacingAndGlyphs">HALLMARK_CHOLESTEROL_HOMEOSTASIS</text>
<text x="290.60" y="329.05" font-size="7" fill="#111" textLength="161.21" lengthAdjust="spacingAndGlyphs">REACTOME_GLYCEROPHOSPHOLIPID_BIOSYNTHESIS</text>
<text x="290.60" y="335.55" font-size="7" fill="#111" textLength="157.58" lengthAdjust="spacingAndGlyphs">REACTOME_EUKARYOTIC_TRANSLATION_INITIATION</text>
</g>
<text x="280.30" y="23.60" font-size="7.8" font-weight="bold" fill="#111" transform="rotate(-43 280.30 23.60)" stroke="#111" stroke-width="0.3">WU-76</text>
<text x="289.20" y="22.90" font-size="8.1" font-weight="bold" fill="#111" transform="rotate(-43 289.20 22.90)" stroke="#111" stroke-width="0.3">WU-12</text>
<path d="M274.1 58H270.7V162H274.1" fill="none" stroke="#b4b4b4" stroke-width="0.8"/>
<path d="M274.1 58V125.5H276.4" fill="none" stroke="#333" stroke-width="0.75"/>
<path d="M274.1 125.5V208" fill="none" stroke="#9a9a9a" stroke-width="0.6"/>
<line x1="276.50" y1="33.00" x2="276.50" y2="45.00" stroke="#2a2a30" stroke-width="0.8" opacity="0.55"/>
<line x1="276.50" y1="88.00" x2="276.50" y2="102.00" stroke="#2a2a30" stroke-width="0.8" opacity="0.55"/>
<line x1="276.50" y1="140.00" x2="276.50" y2="163.00" stroke="#2a2a30" stroke-width="0.8" opacity="0.55"/>
<line x1="276.50" y1="227.00" x2="276.50" y2="254.00" stroke="#2a2a30" stroke-width="0.8" opacity="0.55"/>
<line x1="276.50" y1="277.00" x2="276.50" y2="291.00" stroke="#2a2a30" stroke-width="0.8" opacity="0.55"/>
<defs><linearGradient id="gB" x1="0" y1="1" x2="0" y2="0"><stop offset="0.000" stop-color="#4575B4"/><stop offset="0.167" stop-color="#91BFDB"/><stop offset="0.333" stop-color="#E0F3F8"/><stop offset="0.500" stop-color="#FFFFBF"/><stop offset="0.667" stop-color="#FEE090"/><stop offset="0.833" stop-color="#FC8D59"/><stop offset="1.000" stop-color="#D73027"/></linearGradient></defs>
<rect x="478.00" y="219.90" width="6.40" height="98.20" fill="url(#gB)"/>
<text x="486.40" y="247.60" font-size="6.8" font-weight="bold" fill="#222">2</text>
<text x="486.40" y="272.60" font-size="6.8" font-weight="bold" fill="#222">0</text>
<text x="486.40" y="297.50" font-size="6.8" font-weight="bold" fill="#222">−2</text>
<text x="4.70" y="358.10" font-size="12.3" font-weight="bold" textLength="9.24" lengthAdjust="spacingAndGlyphs" stroke="#000" stroke-width="0.3">C</text>
<text x="97.30" y="359.50" font-size="10.2" font-weight="bold" textLength="139.70" lengthAdjust="spacingAndGlyphs">RNA-seq: STAT3 target genes</text>
<line x1="97.30" y1="361.30" x2="237.00" y2="361.30" stroke="#222" stroke-width="0.7"/>
<text x="89.10" y="372.60" font-size="7.5" font-weight="bold" text-anchor="middle" fill="#111" textLength="25.80" lengthAdjust="spacingAndGlyphs" stroke="#111" stroke-width="0.18">Control</text>
<text x="246.00" y="372.60" font-size="7.5" font-weight="bold" text-anchor="middle" fill="#111" textLength="22.30" lengthAdjust="spacingAndGlyphs" stroke="#111" stroke-width="0.18">WU-12</text>
<line x1="13.75" y1="376.50" x2="162.50" y2="376.50" stroke="#000" stroke-width="1.3"/>
<line x1="171.00" y1="376.50" x2="320.00" y2="376.50" stroke="#000" stroke-width="1.3"/>
<rect x="10.00" y="382.00" width="157.80" height="8.20" fill="#35b9c7"/>
<rect x="167.80" y="382.00" width="157.80" height="8.20" fill="#f28a85"/>
<rect x="10.00" y="392.00" width="52.60" height="6.34" fill="#fdeea8" stroke="#a8a8a8" stroke-width="0.35"/>
<rect x="62.60" y="392.00" width="52.60" height="6.34" fill="#fde9a4" stroke="#a8a8a8" stroke-width="0.35"/>
<rect x="115.20" y="392.00" width="52.60" height="6.34" fill="#cfe3f0" stroke="#a8a8a8" stroke-width="0.35"/>
<rect x="167.80" y="392.00" width="52.60" height="6.34" fill="#e8532f" stroke="#a8a8a8" stroke-width="0.35"/>
<rect x="220.40" y="392.00" width="52.60" height="6.34" fill="#fdf3c8" stroke="#a8a8a8" stroke-width="0.35"/>
<rect x="273.00" y="392.00" width="52.60" height="6.34" fill="#90c0e2" stroke="#a8a8a8" stroke-width="0.35"/>
<rect x="10.00" y="398.34" width="52.60" height="6.34" fill="#92c4e2" stroke="#a8a8a8" stroke-width="0.35"/>
<rect x="62.60" y="398.34" width="52.60" height="6.34" fill="#fdf8d8" stroke="#a8a8a8" stroke-width="0.35"/>
<rect x="115.20" y="398.34" width="52.60" height="6.34" fill="#f0603a" stroke="#a8a8a8" stroke-width="0.35"/>
<rect x="167.80" y="398.34" width="52.60" height="6.34" fill="#fdf6d0" stroke="#a8a8a8" stroke-width="0.35"/>
<rect x="220.40" y="398.34" width="52.60" height="6.34" fill="#fdd48c" stroke="#a8a8a8" stroke-width="0.35"/>
<rect x="273.00" y="398.34" width="52.60" height="6.34" fill="#e6f0f6" stroke="#a8a8a8" stroke-width="0.35"/>
<rect x="10.00" y="404.68" width="52.60" height="6.34" fill="#dcecf6" stroke="#a8a8a8" stroke-width="0.35"/>
<rect x="62.60" y="404.68" width="52.60" height="6.34" fill="#a8d0e8" stroke="#a8a8a8" stroke-width="0.35"/>
<rect x="115.20" y="404.68" width="52.60" height="6.34" fill="#fdeaa8" stroke="#a8a8a8" stroke-width="0.35"/>
<rect x="167.80" y="404.68" width="52.60" height="6.34" fill="#f8f8ec" stroke="#a8a8a8" stroke-width="0.35"/>
<rect x="220.40" y="404.68" width="52.60" height="6.34" fill="#fdeeb0" stroke="#a8a8a8" stroke-width="0.35"/>
<rect x="273.00" y="404.68" width="52.60" height="6.34" fill="#e8402a" stroke="#a8a8a8" stroke-width="0.35"/>
<rect x="10.00" y="411.02" width="52.60" height="6.34" fill="#fdbc6c" stroke="#a8a8a8" stroke-width="0.35"/>
<rect x="62.60" y="411.02" width="52.60" height="6.34" fill="#fdf8d0" stroke="#a8a8a8" stroke-width="0.35"/>
<rect x="115.20" y="411.02" width="52.60" height="6.34" fill="#fde8a0" stroke="#a8a8a8" stroke-width="0.35"/>
<rect x="167.80" y="411.02" width="52.60" height="6.34" fill="#4888c4" stroke="#a8a8a8" stroke-width="0.35"/>
<rect x="220.40" y="411.02" width="52.60" height="6.34" fill="#fdf3c4" stroke="#a8a8a8" stroke-width="0.35"/>
<rect x="273.00" y="411.02" width="52.60" height="6.34" fill="#fdc87c" stroke="#a8a8a8" stroke-width="0.35"/>
<rect x="10.00" y="417.36" width="52.60" height="6.34" fill="#f99a52" stroke="#a8a8a8" stroke-width="0.35"/>
<rect x="62.60" y="417.36" width="52.60" height="6.34" fill="#fdeaa8" stroke="#a8a8a8" stroke-width="0.35"/>
<rect x="115.20" y="417.36" width="52.60" height="6.34" fill="#fde8a0" stroke="#a8a8a8" stroke-width="0.35"/>
<rect x="167.80" y="417.36" width="52.60" height="6.34" fill="#4482c2" stroke="#a8a8a8" stroke-width="0.35"/>
<rect x="220.40" y="417.36" width="52.60" height="6.34" fill="#fdf8d8" stroke="#a8a8a8" stroke-width="0.35"/>
<rect x="273.00" y="417.36" width="52.60" height="6.34" fill="#fdf6d4" stroke="#a8a8a8" stroke-width="0.35"/>
<rect x="10.00" y="423.70" width="52.60" height="6.34" fill="#f06838" stroke="#a8a8a8" stroke-width="0.35"/>
<rect x="62.60" y="423.70" width="52.60" height="6.34" fill="#fdf3c0" stroke="#a8a8a8" stroke-width="0.35"/>
<rect x="115.20" y="423.70" width="52.60" height="6.34" fill="#fdd088" stroke="#a8a8a8" stroke-width="0.35"/>
<rect x="167.80" y="423.70" width="52.60" height="6.34" fill="#9cc8e6" stroke="#a8a8a8" stroke-width="0.35"/>
<rect x="220.40" y="423.70" width="52.60" height="6.34" fill="#cfe3f3" stroke="#a8a8a8" stroke-width="0.35"/>
<rect x="273.00" y="423.70" width="52.60" height="6.34" fill="#d6e8f4" stroke="#a8a8a8" stroke-width="0.35"/>
<rect x="10.00" y="430.04" width="52.60" height="6.34" fill="#fdf0b0" stroke="#a8a8a8" stroke-width="0.35"/>
<rect x="62.60" y="430.04" width="52.60" height="6.34" fill="#d82020" stroke="#a8a8a8" stroke-width="0.35"/>
<rect x="115.20" y="430.04" width="52.60" height="6.34" fill="#e8f0f4" stroke="#a8a8a8" stroke-width="0.35"/>
<rect x="167.80" y="430.04" width="52.60" height="6.34" fill="#b0d4ec" stroke="#a8a8a8" stroke-width="0.35"/>
<rect x="220.40" y="430.04" width="52.60" height="6.34" fill="#fdf3c4" stroke="#a8a8a8" stroke-width="0.35"/>
<rect x="273.00" y="430.04" width="52.60" height="6.34" fill="#fdf8dc" stroke="#a8a8a8" stroke-width="0.35"/>
<rect x="10.00" y="436.38" width="52.60" height="6.34" fill="#fdb060" stroke="#a8a8a8" stroke-width="0.35"/>
<rect x="62.60" y="436.38" width="52.60" height="6.34" fill="#fdc070" stroke="#a8a8a8" stroke-width="0.35"/>
<rect x="115.20" y="436.38" width="52.60" height="6.34" fill="#fdd088" stroke="#a8a8a8" stroke-width="0.35"/>
<rect x="167.80" y="436.38" width="52.60" height="6.34" fill="#a8d0ea" stroke="#a8a8a8" stroke-width="0.35"/>
<rect x="220.40" y="436.38" width="52.60" height="6.34" fill="#c4def0" stroke="#a8a8a8" stroke-width="0.35"/>
<rect x="273.00" y="436.38" width="52.60" height="6.34" fill="#b4d6ec" stroke="#a8a8a8" stroke-width="0.35"/>
<rect x="10.00" y="442.72" width="52.60" height="6.34" fill="#fdc880" stroke="#a8a8a8" stroke-width="0.35"/>
<rect x="62.60" y="442.72" width="52.60" height="6.34" fill="#fdd088" stroke="#a8a8a8" stroke-width="0.35"/>
<rect x="115.20" y="442.72" width="52.60" height="6.34" fill="#fdd890" stroke="#a8a8a8" stroke-width="0.35"/>
<rect x="167.80" y="442.72" width="52.60" height="6.34" fill="#d8e8f4" stroke="#a8a8a8" stroke-width="0.35"/>
<rect x="220.40" y="442.72" width="52.60" height="6.34" fill="#c0dcf0" stroke="#a8a8a8" stroke-width="0.35"/>
<rect x="273.00" y="442.72" width="52.60" height="6.34" fill="#a4cce8" stroke="#a8a8a8" stroke-width="0.35"/>
<text x="327.00" y="397.77" font-size="7.3" fill="#111" textLength="16.88" lengthAdjust="spacingAndGlyphs" stroke="#111" stroke-width="0.15">Ccna2</text>
<text x="327.00" y="404.11" font-size="7.3" fill="#111" textLength="13.63" lengthAdjust="spacingAndGlyphs" stroke="#111" stroke-width="0.15">Nsg1</text>
<text x="327.00" y="410.45" font-size="7.3" fill="#111" textLength="16.23" lengthAdjust="spacingAndGlyphs" stroke="#111" stroke-width="0.15">Mmp2</text>
<text x="327.00" y="416.79" font-size="7.3" fill="#111" textLength="16.88" lengthAdjust="spacingAndGlyphs" stroke="#111" stroke-width="0.15">Ccnd3</text>
<text x="327.00" y="423.13" font-size="7.3" fill="#111" textLength="13.31" lengthAdjust="spacingAndGlyphs" stroke="#111" stroke-width="0.15">Pim2</text>
<text x="327.00" y="429.47" font-size="7.3" fill="#111" textLength="16.88" lengthAdjust="spacingAndGlyphs" stroke="#111" stroke-width="0.15">Ccnd1</text>
<text x="327.00" y="435.81" font-size="7.3" fill="#111" textLength="13.31" lengthAdjust="spacingAndGlyphs" stroke="#111" stroke-width="0.15">Pim1</text>
<text x="327.00" y="442.15" font-size="7.3" fill="#111" textLength="16.88" lengthAdjust="spacingAndGlyphs" stroke="#111" stroke-width="0.15">Ccnd2</text>
<text x="327.00" y="448.49" font-size="7.3" fill="#111" textLength="12.33" lengthAdjust="spacingAndGlyphs" stroke="#111" stroke-width="0.15">Mcl1</text>
<text x="327.30" y="388.80" font-size="5" fill="#444">.</text>
<path d="M10 401.5H7.2V407.9H10M10 395.2H5.1V404.7H7.2M10 420.5H8.6V426.9H10M10 414.2H7.8V423.7H8.6M10 439.6H8.6V445.9H10M10 433.2H7.6V442.7H8.6M7.8 419H6.2V438H7.6M5.1 400H4.3V428.5H6.2" fill="none" stroke="#3c3848" stroke-width="0.6"/>
<defs><linearGradient id="gC" x1="0" y1="1" x2="0" y2="0"><stop offset="0.000" stop-color="#4575B4"/><stop offset="0.167" stop-color="#91BFDB"/><stop offset="0.333" stop-color="#E0F3F8"/><stop offset="0.500" stop-color="#FFFFBF"/><stop offset="0.667" stop-color="#FEE090"/><stop offset="0.833" stop-color="#FC8D59"/><stop offset="1.000" stop-color="#D73027"/></linearGradient></defs>
<rect x="356.50" y="395.00" width="5.80" height="45.30" fill="url(#gC)"/>
<text x="364.00" y="401.90" font-size="5.4" font-weight="bold" fill="#222">1.5</text>
<text x="364.00" y="408.10" font-size="5.4" font-weight="bold" fill="#222">1</text>
<text x="364.00" y="413.90" font-size="5.4" font-weight="bold" fill="#222">0.5</text>
<text x="364.00" y="419.90" font-size="5.4" font-weight="bold" fill="#222">0</text>
<text x="364.00" y="425.70" font-size="5.4" font-weight="bold" fill="#222">−0.5</text>
<text x="364.00" y="431.90" font-size="5.4" font-weight="bold" fill="#222">−1</text>
<text x="364.00" y="437.60" font-size="5.4" font-weight="bold" fill="#222">−1.5</text>
<text x="378.30" y="357.60" font-size="12.3" font-weight="bold" textLength="9.24" lengthAdjust="spacingAndGlyphs" stroke="#000" stroke-width="0.3">D</text>
<text x="407.00" y="359.35" font-size="10.2" font-weight="bold" textLength="92.80" lengthAdjust="spacingAndGlyphs">STAT3 target genes</text>
<line x1="407.00" y1="361.25" x2="499.80" y2="361.25" stroke="#222" stroke-width="0.7"/>
<rect x="408.80" y="367.80" width="92.20" height="76.80" fill="#e6e6e6"/>
<line x1="408.80" y1="384.25" x2="501.00" y2="384.25" stroke="#f0f0f0" stroke-width="0.4"/>
<line x1="408.80" y1="411.95" x2="501.00" y2="411.95" stroke="#f0f0f0" stroke-width="0.4"/>
<line x1="408.80" y1="439.65" x2="501.00" y2="439.65" stroke="#f0f0f0" stroke-width="0.4"/>
<line x1="408.80" y1="370.40" x2="501.00" y2="370.40" stroke="#f7f7f7" stroke-width="0.7"/>
<line x1="408.80" y1="398.10" x2="501.00" y2="398.10" stroke="#f7f7f7" stroke-width="0.7"/>
<line x1="408.80" y1="425.80" x2="501.00" y2="425.80" stroke="#f7f7f7" stroke-width="0.7"/>
<line x1="434.20" y1="367.80" x2="434.20" y2="444.60" stroke="#f7f7f7" stroke-width="0.7"/>
<line x1="475.00" y1="367.80" x2="475.00" y2="444.60" stroke="#f7f7f7" stroke-width="0.7"/>
<line x1="434.20" y1="377.30" x2="434.20" y2="379.70" stroke="#555" stroke-width="0.6"/>
<rect x="418.50" y="373.20" width="31.10" height="4.20" fill="#27378f" stroke="#1c2660" stroke-width="0.4"/>
<line x1="418.50" y1="374.30" x2="449.60" y2="374.30" stroke="#1c2660" stroke-width="0.6"/>
<line x1="475.00" y1="406.00" x2="475.00" y2="442.00" stroke="#666" stroke-width="0.6"/>
<rect x="459.30" y="409.70" width="31.40" height="18.30" fill="#ee2226" stroke="#8a1a1a" stroke-width="0.5"/>
<line x1="459.30" y1="412.70" x2="490.70" y2="412.70" stroke="#5a1010" stroke-width="0.7"/>
<text x="406.40" y="372.60" font-size="6.1" font-weight="bold" text-anchor="end" fill="#111" stroke="#111" stroke-width="0.18">1</text>
<text x="406.40" y="400.30" font-size="6.1" font-weight="bold" text-anchor="end" fill="#111" stroke="#111" stroke-width="0.18">0</text>
<text x="406.40" y="428.00" font-size="6.1" font-weight="bold" text-anchor="end" fill="#111" stroke="#111" stroke-width="0.18">-1</text>
<text x="434.40" y="455.20" font-size="7.8" font-weight="bold" text-anchor="middle" fill="#111" textLength="14.40" lengthAdjust="spacingAndGlyphs" stroke="#111" stroke-width="0.3">Con</text>
<text x="477.80" y="454.30" font-size="7.8" font-weight="bold" text-anchor="middle" fill="#111" textLength="24.20" lengthAdjust="spacingAndGlyphs" stroke="#111" stroke-width="0.3">WU-12</text>
<text x="427.7" y="371.3" font-size="4.1" fill="#222" textLength="30.8" lengthAdjust="spacingAndGlyphs">T-test <tspan font-style="italic">P</tspan> = 0.046</text>
<text x="388.20" y="406.80" font-size="7.3" font-weight="bold" text-anchor="middle" fill="#111" textLength="62.00" lengthAdjust="spacingAndGlyphs" transform="rotate(-90 388.20 406.80)" stroke="#111" stroke-width="0.18">STAT3 target genes</text>
<text x="395.40" y="406.80" font-size="7.2" text-anchor="middle" textLength="62.00" lengthAdjust="spacingAndGlyphs" transform="rotate(-90 395.40 406.80)" stroke="#111" stroke-width="0.25">normalized singscore</text>
<text x="4.90" y="471.00" font-size="12.3" font-weight="bold" textLength="8.53" lengthAdjust="spacingAndGlyphs" stroke="#000" stroke-width="0.3">E</text>
<text x="24.00" y="479.40" font-size="10.2" font-weight="bold" textLength="163.50" lengthAdjust="spacingAndGlyphs">WU-12: MEK/MAPK pathway genes</text>
<line x1="24.00" y1="481.30" x2="187.50" y2="481.30" stroke="#222" stroke-width="0.7"/>
<line x1="75.15" y1="488.50" x2="75.15" y2="598.50" stroke="#ececec" stroke-width="0.5"/>
<line x1="117.40" y1="488.50" x2="117.40" y2="598.50" stroke="#ececec" stroke-width="0.5"/>
<line x1="159.65" y1="488.50" x2="159.65" y2="598.50" stroke="#ececec" stroke-width="0.5"/>
<line x1="34.00" y1="561.30" x2="173.00" y2="561.30" stroke="#ececec" stroke-width="0.5"/>
<line x1="34.00" y1="529.20" x2="173.00" y2="529.20" stroke="#ececec" stroke-width="0.5"/>
<line x1="34.00" y1="497.10" x2="173.00" y2="497.10" stroke="#ececec" stroke-width="0.5"/>
<circle cx="118.3" cy="594.3" r="0.95" fill="#111"/>
<circle cx="120.9" cy="594.5" r="0.95" fill="#111"/>
<circle cx="120.1" cy="594.5" r="0.95" fill="#111"/>
<circle cx="109.4" cy="594.0" r="0.95" fill="#111"/>
<circle cx="123.2" cy="594.2" r="0.95" fill="#111"/>
<circle cx="122.5" cy="593.5" r="0.95" fill="#111"/>
<circle cx="116.0" cy="593.7" r="0.95" fill="#111"/>
<circle cx="117.2" cy="594.1" r="0.95" fill="#111"/>
<circle cx="109.2" cy="593.7" r="0.95" fill="#111"/>
<circle cx="113.2" cy="594.5" r="0.95" fill="#111"/>
<circle cx="120.5" cy="593.6" r="0.95" fill="#111"/>
<circle cx="121.0" cy="593.6" r="0.95" fill="#111"/>
<circle cx="118.3" cy="593.6" r="0.95" fill="#111"/>
<circle cx="109.0" cy="594.4" r="0.95" fill="#111"/>
<circle cx="112.1" cy="593.7" r="0.95" fill="#111"/>
<circle cx="123.7" cy="594.4" r="0.95" fill="#111"/>
<circle cx="113.3" cy="594.6" r="0.95" fill="#111"/>
<circle cx="117.1" cy="594.2" r="0.95" fill="#111"/>
<circle cx="112.1" cy="594.5" r="0.95" fill="#111"/>
<circle cx="119.4" cy="594.6" r="0.95" fill="#111"/>
<circle cx="122.4" cy="593.8" r="0.95" fill="#111"/>
<circle cx="114.4" cy="593.6" r="0.95" fill="#111"/>
<circle cx="111.2" cy="593.5" r="0.95" fill="#111"/>
<circle cx="113.5" cy="594.1" r="0.95" fill="#111"/>
<circle cx="109.1" cy="594.2" r="0.95" fill="#111"/>
<circle cx="114.1" cy="593.8" r="0.95" fill="#111"/>
<circle cx="121.3" cy="594.0" r="0.95" fill="#111"/>
<circle cx="113.7" cy="594.0" r="0.95" fill="#111"/>
<circle cx="119.6" cy="593.5" r="0.95" fill="#111"/>
<circle cx="123.6" cy="593.4" r="0.95" fill="#111"/>
<circle cx="120.2" cy="594.4" r="0.95" fill="#111"/>
<circle cx="109.3" cy="594.3" r="0.95" fill="#111"/>
<circle cx="114.5" cy="594.1" r="0.95" fill="#111"/>
<circle cx="109.1" cy="593.5" r="0.95" fill="#111"/>
<circle cx="111.7" cy="594.5" r="0.95" fill="#111"/>
<circle cx="111.9" cy="594.3" r="0.95" fill="#111"/>
<circle cx="122.9" cy="594.5" r="0.95" fill="#111"/>
<circle cx="114.2" cy="593.8" r="0.95" fill="#111"/>
<circle cx="116.9" cy="594.3" r="0.95" fill="#111"/>
<circle cx="110.6" cy="594.3" r="0.95" fill="#111"/>
<circle cx="121.0" cy="594.4" r="0.95" fill="#111"/>
<circle cx="109.5" cy="594.5" r="0.95" fill="#111"/>
<circle cx="110.4" cy="593.8" r="0.95" fill="#111"/>
<circle cx="118.2" cy="594.5" r="0.95" fill="#111"/>
<circle cx="114.1" cy="594.5" r="0.95" fill="#111"/>
<circle cx="117.2" cy="593.8" r="0.95" fill="#111"/>
<circle cx="113.8" cy="593.6" r="0.95" fill="#111"/>
<circle cx="110.2" cy="593.6" r="0.95" fill="#111"/>
<circle cx="119.3" cy="594.6" r="0.95" fill="#111"/>
<circle cx="111.4" cy="593.5" r="0.95" fill="#111"/>
<circle cx="123.8" cy="594.0" r="0.95" fill="#111"/>
<circle cx="115.1" cy="593.7" r="0.95" fill="#111"/>
<circle cx="117.9" cy="594.4" r="0.95" fill="#111"/>
<circle cx="115.8" cy="593.9" r="0.95" fill="#111"/>
<circle cx="109.8" cy="594.5" r="0.95" fill="#111"/>
<circle cx="109.5" cy="594.0" r="0.95" fill="#111"/>
<circle cx="121.6" cy="593.6" r="0.95" fill="#111"/>
<circle cx="120.0" cy="594.5" r="0.95" fill="#111"/>
<circle cx="118.5" cy="594.3" r="0.95" fill="#111"/>
<circle cx="110.6" cy="593.9" r="0.95" fill="#111"/>
<circle cx="111.2" cy="594.4" r="0.95" fill="#111"/>
<circle cx="113.4" cy="593.9" r="0.95" fill="#111"/>
<circle cx="124.0" cy="594.4" r="0.95" fill="#111"/>
<circle cx="123.6" cy="593.9" r="0.95" fill="#111"/>
<circle cx="116.3" cy="594.3" r="0.95" fill="#111"/>
<circle cx="116.2" cy="593.7" r="0.95" fill="#111"/>
<circle cx="115.1" cy="593.6" r="0.95" fill="#111"/>
<circle cx="114.7" cy="594.6" r="0.95" fill="#111"/>
<circle cx="123.4" cy="594.2" r="0.95" fill="#111"/>
<circle cx="116.5" cy="593.8" r="0.95" fill="#111"/>
<circle cx="113.5" cy="594.5" r="0.95" fill="#111"/>
<circle cx="119.6" cy="595.1" r="0.95" fill="#111"/>
<circle cx="115.9" cy="595.0" r="0.95" fill="#111"/>
<circle cx="119.5" cy="594.9" r="0.95" fill="#111"/>
<circle cx="118.5" cy="595.0" r="0.95" fill="#111"/>
<circle cx="115.9" cy="594.9" r="0.95" fill="#111"/>
<circle cx="115.2" cy="594.7" r="0.95" fill="#111"/>
<circle cx="119.5" cy="594.9" r="0.95" fill="#111"/>
<circle cx="115.3" cy="595.2" r="0.95" fill="#111"/>
<circle cx="118.4" cy="594.8" r="0.95" fill="#111"/>
<circle cx="112.8" cy="594.8" r="0.95" fill="#111"/>
<circle cx="114.9" cy="594.9" r="0.95" fill="#111"/>
<circle cx="116.8" cy="595.0" r="0.95" fill="#111"/>
<circle cx="118.4" cy="595.0" r="0.95" fill="#111"/>
<circle cx="115.8" cy="594.9" r="0.95" fill="#111"/>
<circle cx="119.2" cy="595.0" r="0.95" fill="#111"/>
<circle cx="115.8" cy="595.1" r="0.95" fill="#111"/>
<circle cx="120.4" cy="594.9" r="0.95" fill="#111"/>
<circle cx="121.3" cy="595.2" r="0.95" fill="#111"/>
<circle cx="117.3" cy="594.8" r="0.95" fill="#111"/>
<circle cx="114.2" cy="595.1" r="0.95" fill="#111"/>
<circle cx="120.9" cy="594.7" r="0.95" fill="#111"/>
<circle cx="118.8" cy="594.9" r="0.95" fill="#111"/>
<circle cx="119.1" cy="594.5" r="0.95" fill="#111"/>
<circle cx="119.6" cy="594.8" r="0.95" fill="#111"/>
<circle cx="111.7" cy="592.0" r="0.95" fill="#2a3f9e"/>
<circle cx="111.2" cy="590.9" r="0.95" fill="#2a3f9e"/>
<circle cx="111.4" cy="591.1" r="0.95" fill="#2a3f9e"/>
<circle cx="104.3" cy="592.1" r="0.95" fill="#2a3f9e"/>
<circle cx="109.1" cy="590.7" r="0.95" fill="#2a3f9e"/>
<circle cx="106.5" cy="589.8" r="0.95" fill="#2a3f9e"/>
<circle cx="111.3" cy="592.9" r="0.95" fill="#2a3f9e"/>
<circle cx="109.5" cy="592.2" r="0.95" fill="#2a3f9e"/>
<circle cx="104.6" cy="592.3" r="0.95" fill="#2a3f9e"/>
<circle cx="107.7" cy="592.2" r="0.95" fill="#2a3f9e"/>
<circle cx="106.2" cy="592.8" r="0.95" fill="#2a3f9e"/>
<circle cx="109.4" cy="591.7" r="0.95" fill="#2a3f9e"/>
<circle cx="111.1" cy="591.4" r="0.95" fill="#2a3f9e"/>
<circle cx="106.8" cy="588.8" r="0.95" fill="#2a3f9e"/>
<circle cx="104.0" cy="590.7" r="0.95" fill="#2a3f9e"/>
<circle cx="107.2" cy="591.2" r="0.95" fill="#2a3f9e"/>
<circle cx="105.3" cy="588.7" r="0.95" fill="#2a3f9e"/>
<circle cx="108.3" cy="592.9" r="0.95" fill="#2a3f9e"/>
<circle cx="111.1" cy="592.7" r="0.95" fill="#2a3f9e"/>
<circle cx="110.3" cy="592.0" r="0.95" fill="#2a3f9e"/>
<circle cx="110.7" cy="590.2" r="0.95" fill="#2a3f9e"/>
<circle cx="113.5" cy="592.3" r="0.95" fill="#2a3f9e"/>
<circle cx="113.4" cy="591.9" r="0.95" fill="#2a3f9e"/>
<circle cx="108.3" cy="592.4" r="0.95" fill="#2a3f9e"/>
<circle cx="110.9" cy="591.4" r="0.95" fill="#2a3f9e"/>
<circle cx="115.1" cy="592.0" r="0.95" fill="#2a3f9e"/>
<circle cx="111.1" cy="592.0" r="0.95" fill="#2a3f9e"/>
<circle cx="114.4" cy="593.0" r="0.95" fill="#2a3f9e"/>
<circle cx="105.3" cy="590.0" r="0.95" fill="#2a3f9e"/>
<circle cx="111.1" cy="592.6" r="0.95" fill="#2a3f9e"/>
<circle cx="111.3" cy="590.6" r="0.95" fill="#2a3f9e"/>
<circle cx="108.4" cy="591.3" r="0.95" fill="#2a3f9e"/>
<circle cx="106.6" cy="591.6" r="0.95" fill="#2a3f9e"/>
<circle cx="115.3" cy="592.6" r="0.95" fill="#2a3f9e"/>
<circle cx="115.1" cy="592.1" r="0.95" fill="#2a3f9e"/>
<circle cx="110.9" cy="592.3" r="0.95" fill="#2a3f9e"/>
<circle cx="115.4" cy="592.6" r="0.95" fill="#2a3f9e"/>
<circle cx="108.8" cy="591.8" r="0.95" fill="#2a3f9e"/>
<circle cx="115.4" cy="592.6" r="0.95" fill="#2a3f9e"/>
<circle cx="107.3" cy="590.9" r="0.95" fill="#2a3f9e"/>
<circle cx="105.4" cy="589.8" r="0.95" fill="#2a3f9e"/>
<circle cx="109.1" cy="591.9" r="0.95" fill="#2a3f9e"/>
<circle cx="113.1" cy="591.4" r="0.95" fill="#2a3f9e"/>
<circle cx="104.2" cy="589.9" r="0.95" fill="#2a3f9e"/>
<circle cx="107.2" cy="588.9" r="0.95" fill="#2a3f9e"/>
<circle cx="113.1" cy="592.5" r="0.95" fill="#2a3f9e"/>
<circle cx="107.1" cy="592.3" r="0.95" fill="#2a3f9e"/>
<circle cx="115.5" cy="592.7" r="0.95" fill="#2a3f9e"/>
<circle cx="111.1" cy="591.7" r="0.95" fill="#2a3f9e"/>
<circle cx="111.5" cy="591.4" r="0.95" fill="#2a3f9e"/>
<circle cx="112.6" cy="592.8" r="0.95" fill="#2a3f9e"/>
<circle cx="112.8" cy="592.4" r="0.95" fill="#2a3f9e"/>
<circle cx="110.2" cy="591.9" r="0.95" fill="#2a3f9e"/>
<circle cx="107.4" cy="590.7" r="0.95" fill="#2a3f9e"/>
<circle cx="109.4" cy="591.7" r="0.95" fill="#2a3f9e"/>
<circle cx="39.2" cy="584.0" r="0.95" fill="#2a3f9e"/>
<circle cx="96.9" cy="577.9" r="0.95" fill="#2a3f9e"/>
<circle cx="99.2" cy="582.3" r="0.95" fill="#2a3f9e"/>
<circle cx="103.0" cy="579.8" r="0.95" fill="#2a3f9e"/>
<circle cx="105.0" cy="578.8" r="0.95" fill="#2a3f9e"/>
<circle cx="106.5" cy="584.6" r="0.95" fill="#2a3f9e"/>
<circle cx="102.0" cy="589.8" r="0.95" fill="#2a3f9e"/>
<circle cx="108.8" cy="588.5" r="0.95" fill="#2a3f9e"/>
<circle cx="110.8" cy="589.4" r="0.95" fill="#2a3f9e"/>
<circle cx="100.5" cy="586.5" r="0.95" fill="#2a3f9e"/>
<circle cx="97.5" cy="578.6" r="0.95" fill="#2a3f9e"/>
<circle cx="103.8" cy="579.2" r="0.95" fill="#2a3f9e"/>
<circle cx="127.9" cy="588.5" r="0.95" fill="#e8212b"/>
<circle cx="119.4" cy="592.8" r="0.95" fill="#e8212b"/>
<circle cx="124.5" cy="587.8" r="0.95" fill="#e8212b"/>
<circle cx="129.7" cy="588.2" r="0.95" fill="#e8212b"/>
<circle cx="119.2" cy="592.3" r="0.95" fill="#e8212b"/>
<circle cx="124.1" cy="590.3" r="0.95" fill="#e8212b"/>
<circle cx="127.5" cy="588.3" r="0.95" fill="#e8212b"/>
<circle cx="124.8" cy="587.6" r="0.95" fill="#e8212b"/>
<circle cx="123.6" cy="591.5" r="0.95" fill="#e8212b"/>
<circle cx="129.2" cy="591.8" r="0.95" fill="#e8212b"/>
<circle cx="122.6" cy="589.8" r="0.95" fill="#e8212b"/>
<circle cx="119.8" cy="591.8" r="0.95" fill="#e8212b"/>
<circle cx="127.3" cy="590.2" r="0.95" fill="#e8212b"/>
<circle cx="122.4" cy="590.1" r="0.95" fill="#e8212b"/>
<circle cx="129.9" cy="592.1" r="0.95" fill="#e8212b"/>
<circle cx="124.7" cy="590.2" r="0.95" fill="#e8212b"/>
<circle cx="125.0" cy="591.5" r="0.95" fill="#e8212b"/>
<circle cx="120.8" cy="591.8" r="0.95" fill="#e8212b"/>
<circle cx="128.7" cy="592.7" r="0.95" fill="#e8212b"/>
<circle cx="121.8" cy="590.4" r="0.95" fill="#e8212b"/>
<circle cx="128.5" cy="587.4" r="0.95" fill="#e8212b"/>
<circle cx="119.3" cy="592.3" r="0.95" fill="#e8212b"/>
<circle cx="130.7" cy="581.5" r="0.95" fill="#e8212b"/>
<circle cx="127.4" cy="592.8" r="0.95" fill="#e8212b"/>
<circle cx="129.1" cy="591.6" r="0.95" fill="#e8212b"/>
<circle cx="126.7" cy="585.6" r="0.95" fill="#e8212b"/>
<circle cx="127.5" cy="592.4" r="0.95" fill="#e8212b"/>
<circle cx="122.5" cy="589.4" r="0.95" fill="#e8212b"/>
<circle cx="120.8" cy="591.7" r="0.95" fill="#e8212b"/>
<circle cx="124.0" cy="592.5" r="0.95" fill="#e8212b"/>
<circle cx="126.5" cy="592.9" r="0.95" fill="#e8212b"/>
<circle cx="120.3" cy="592.4" r="0.95" fill="#e8212b"/>
<circle cx="119.9" cy="593.0" r="0.95" fill="#e8212b"/>
<circle cx="125.9" cy="588.2" r="0.95" fill="#e8212b"/>
<circle cx="129.5" cy="592.2" r="0.95" fill="#e8212b"/>
<circle cx="124.2" cy="591.8" r="0.95" fill="#e8212b"/>
<circle cx="126.2" cy="590.1" r="0.95" fill="#e8212b"/>
<circle cx="130.3" cy="589.9" r="0.95" fill="#e8212b"/>
<circle cx="119.7" cy="592.1" r="0.95" fill="#e8212b"/>
<circle cx="120.8" cy="591.6" r="0.95" fill="#e8212b"/>
<circle cx="125.1" cy="587.4" r="0.95" fill="#e8212b"/>
<circle cx="125.7" cy="589.3" r="0.95" fill="#e8212b"/>
<circle cx="122.2" cy="591.3" r="0.95" fill="#e8212b"/>
<circle cx="122.1" cy="590.5" r="0.95" fill="#e8212b"/>
<circle cx="125.2" cy="592.5" r="0.95" fill="#e8212b"/>
<circle cx="121.8" cy="592.1" r="0.95" fill="#e8212b"/>
<circle cx="127.8" cy="592.0" r="0.95" fill="#e8212b"/>
<circle cx="127.6" cy="588.0" r="0.95" fill="#e8212b"/>
<circle cx="120.0" cy="592.0" r="0.95" fill="#e8212b"/>
<circle cx="120.1" cy="592.9" r="0.95" fill="#e8212b"/>
<circle cx="126.1" cy="591.9" r="0.95" fill="#e8212b"/>
<circle cx="129.5" cy="589.0" r="0.95" fill="#e8212b"/>
<circle cx="122.9" cy="589.8" r="0.95" fill="#e8212b"/>
<circle cx="119.4" cy="592.3" r="0.95" fill="#e8212b"/>
<circle cx="119.6" cy="592.9" r="0.95" fill="#e8212b"/>
<circle cx="130.4" cy="586.2" r="0.95" fill="#e8212b"/>
<circle cx="121.7" cy="592.8" r="0.95" fill="#e8212b"/>
<circle cx="130.7" cy="586.2" r="0.95" fill="#e8212b"/>
<circle cx="128.8" cy="592.2" r="0.95" fill="#e8212b"/>
<circle cx="126.5" cy="591.0" r="0.95" fill="#e8212b"/>
<circle cx="121.8" cy="592.2" r="0.95" fill="#e8212b"/>
<circle cx="126.4" cy="591.1" r="0.95" fill="#e8212b"/>
<circle cx="123.6" cy="592.6" r="0.95" fill="#e8212b"/>
<circle cx="129.0" cy="587.3" r="0.95" fill="#e8212b"/>
<circle cx="128.7" cy="589.7" r="0.95" fill="#e8212b"/>
<circle cx="138.2" cy="591.4" r="0.95" fill="#e8212b"/>
<circle cx="135.1" cy="591.0" r="0.95" fill="#e8212b"/>
<circle cx="136.9" cy="592.1" r="0.95" fill="#e8212b"/>
<circle cx="129.2" cy="593.0" r="0.95" fill="#e8212b"/>
<circle cx="130.4" cy="593.0" r="0.95" fill="#e8212b"/>
<circle cx="138.7" cy="591.6" r="0.95" fill="#e8212b"/>
<circle cx="137.1" cy="593.0" r="0.95" fill="#e8212b"/>
<circle cx="133.6" cy="588.2" r="0.95" fill="#e8212b"/>
<circle cx="135.4" cy="591.9" r="0.95" fill="#e8212b"/>
<circle cx="133.6" cy="592.9" r="0.95" fill="#e8212b"/>
<circle cx="129.9" cy="592.8" r="0.95" fill="#e8212b"/>
<circle cx="132.5" cy="592.1" r="0.95" fill="#e8212b"/>
<circle cx="138.6" cy="592.9" r="0.95" fill="#e8212b"/>
<circle cx="131.0" cy="592.5" r="0.95" fill="#e8212b"/>
<circle cx="129.9" cy="592.5" r="0.95" fill="#e8212b"/>
<circle cx="130.8" cy="591.6" r="0.95" fill="#e8212b"/>
<circle cx="128.4" cy="587.9" r="0.95" fill="#e8212b"/>
<circle cx="132.4" cy="587.7" r="0.95" fill="#e8212b"/>
<circle cx="136.3" cy="590.3" r="0.95" fill="#e8212b"/>
<circle cx="133.7" cy="587.6" r="0.95" fill="#e8212b"/>
<circle cx="129.4" cy="590.3" r="0.95" fill="#e8212b"/>
<circle cx="131.5" cy="590.3" r="0.95" fill="#e8212b"/>
<circle cx="136.8" cy="592.8" r="0.95" fill="#e8212b"/>
<circle cx="130.4" cy="593.0" r="0.95" fill="#e8212b"/>
<circle cx="130.8" cy="593.0" r="0.95" fill="#e8212b"/>
<circle cx="166.8" cy="494.3" r="0.95" fill="#e8212b"/>
<circle cx="130.4" cy="567.0" r="0.95" fill="#e8212b"/>
<circle cx="132.3" cy="572.1" r="0.95" fill="#e8212b"/>
<circle cx="130.4" cy="576.0" r="0.95" fill="#e8212b"/>
<circle cx="132.0" cy="577.0" r="0.95" fill="#e8212b"/>
<circle cx="129.0" cy="578.8" r="0.95" fill="#e8212b"/>
<circle cx="128.1" cy="581.7" r="0.95" fill="#e8212b"/>
<circle cx="130.4" cy="583.7" r="0.95" fill="#e8212b"/>
<circle cx="137.7" cy="569.2" r="0.95" fill="#e8212b"/>
<circle cx="141.5" cy="564.4" r="0.95" fill="#e8212b"/>
<circle cx="146.3" cy="568.8" r="0.95" fill="#e8212b"/>
<circle cx="139.6" cy="574.6" r="0.95" fill="#e8212b"/>
<circle cx="137.7" cy="580.8" r="0.95" fill="#e8212b"/>
<circle cx="141.2" cy="585.6" r="0.95" fill="#e8212b"/>
<circle cx="143.5" cy="586.5" r="0.95" fill="#e8212b"/>
<circle cx="151.0" cy="587.0" r="0.95" fill="#e8212b"/>
<circle cx="154.0" cy="586.5" r="0.95" fill="#e8212b"/>
<circle cx="156.0" cy="586.0" r="0.95" fill="#e8212b"/>
<circle cx="145.4" cy="590.4" r="0.95" fill="#e8212b"/>
<circle cx="148.3" cy="591.3" r="0.95" fill="#e8212b"/>
<circle cx="137.7" cy="591.3" r="0.95" fill="#e8212b"/>
<circle cx="134.0" cy="588.0" r="0.95" fill="#e8212b"/>
<circle cx="135.5" cy="583.0" r="0.95" fill="#e8212b"/>
<circle cx="133.0" cy="579.5" r="0.95" fill="#e8212b"/>
<circle cx="147.0" cy="586.8" r="0.95" fill="#e8212b"/>
<circle cx="158.5" cy="591.5" r="0.95" fill="#e8212b"/>
<circle cx="162.0" cy="591.0" r="0.95" fill="#e8212b"/>
<line x1="107.60" y1="488.50" x2="107.60" y2="599.00" stroke="#e8212b" stroke-width="0.7"/>
<line x1="128.20" y1="488.50" x2="128.20" y2="599.00" stroke="#e8212b" stroke-width="0.7"/>
<line x1="34.00" y1="593.30" x2="172.50" y2="593.30" stroke="#e8212b" stroke-width="0.7"/>
<text x="157.50" y="499.60" font-size="4.9" fill="#e8212b" textLength="8.00" lengthAdjust="spacingAndGlyphs">Ccl5</text>
<text x="132.30" y="561.60" font-size="4.9" fill="#e8212b" textLength="5.60" lengthAdjust="spacingAndGlyphs">Nrk</text>
<text x="123.30" y="570.40" font-size="4.9" fill="#e8212b" textLength="7.20" lengthAdjust="spacingAndGlyphs">Ccl2</text>
<text x="139.60" y="568.60" font-size="4.9" fill="#e8212b" textLength="6.80" lengthAdjust="spacingAndGlyphs">Ccl7</text>
<text x="150.80" y="571.40" font-size="4.9" fill="#e8212b" textLength="10.00" lengthAdjust="spacingAndGlyphs">Itgb3</text>
<text x="116.50" y="576.60" font-size="4.9" fill="#e8212b" textLength="10.50" lengthAdjust="spacingAndGlyphs">Pdgfb</text>
<text x="134.40" y="577.00" font-size="4.9" fill="#e8212b" textLength="12.00" lengthAdjust="spacingAndGlyphs">Asap12</text>
<text x="132.90" y="584.60" font-size="4.9" fill="#e8212b" textLength="4.40" lengthAdjust="spacingAndGlyphs">C3</text>
<text x="154.00" y="592.60" font-size="4.9" fill="#e8212b" textLength="7.70" lengthAdjust="spacingAndGlyphs">Casr</text>
<text x="39.50" y="589.30" font-size="4.9" fill="#2a3f9e" textLength="12.50" lengthAdjust="spacingAndGlyphs">Fgf21</text>
<text x="87.30" y="576.20" font-size="4.9" fill="#2a3f9e" textLength="8.70" lengthAdjust="spacingAndGlyphs">Tgfa</text>
<text x="106.30" y="578.00" font-size="4.9" fill="#2a3f9e" textLength="6.00" lengthAdjust="spacingAndGlyphs">Edn</text>
<text x="32.00" y="595.40" font-size="5.7" font-weight="bold" text-anchor="end" fill="#111">0</text>
<text x="32.00" y="563.30" font-size="5.7" font-weight="bold" text-anchor="end" fill="#111">50</text>
<text x="32.00" y="531.20" font-size="5.7" font-weight="bold" text-anchor="end" fill="#111">100</text>
<text x="32.00" y="499.10" font-size="5.7" font-weight="bold" text-anchor="end" fill="#111">150</text>
<text x="75.55" y="603.80" font-size="5.7" font-weight="bold" text-anchor="middle" fill="#111">-2.5</text>
<text x="117.80" y="603.80" font-size="5.7" font-weight="bold" text-anchor="middle" fill="#111">0.0</text>
<text x="160.05" y="603.80" font-size="5.7" font-weight="bold" text-anchor="middle" fill="#111">2.5</text>
<text x="80" y="612.5" font-size="6.6" font-weight="bold" fill="#111" textLength="51.5" lengthAdjust="spacingAndGlyphs">log<tspan font-size="4.4" dy="1.3">2</tspan><tspan dy="-1.3"> fold change</tspan></text>
<text x="17.8" y="565.2" font-size="6.6" font-weight="bold" fill="#111" transform="rotate(-90 17.8 565.2)" textLength="37" lengthAdjust="spacingAndGlyphs">−log<tspan font-size="4.4" dy="1.3">10</tspan><tspan dy="-1.3"> (padj)</tspan></text>
<circle cx="183.7" cy="540" r="1.0" fill="#2a3f9e"/>
<text x="188.70" y="542.20" font-size="6.4" font-weight="bold" fill="#111" textLength="15.57" lengthAdjust="spacingAndGlyphs" stroke="#111" stroke-width="0.18">Down</text>
<circle cx="183.7" cy="547.1" r="1.0" fill="#111"/>
<text x="188.70" y="549.30" font-size="6.4" font-weight="bold" fill="#111" textLength="30.19" lengthAdjust="spacingAndGlyphs" stroke="#111" stroke-width="0.18">No Change</text>
<circle cx="183.7" cy="554.2" r="1.0" fill="#e8212b"/>
<text x="188.70" y="556.40" font-size="6.4" font-weight="bold" fill="#111" textLength="7.63" lengthAdjust="spacingAndGlyphs" stroke="#111" stroke-width="0.18">Up</text>
<text x="212.80" y="471.00" font-size="12.3" font-weight="bold" textLength="7.81" lengthAdjust="spacingAndGlyphs" stroke="#000" stroke-width="0.3">F</text>
<text x="230.50" y="479.10" font-size="10.2" font-weight="bold" textLength="126.50" lengthAdjust="spacingAndGlyphs">MAPK cascade enrichment</text>
<line x1="230.50" y1="480.90" x2="357.00" y2="480.90" stroke="#222" stroke-width="0.7"/>
<rect x="230.20" y="485.50" width="126.80" height="127.80" fill="#f7f7f7" stroke="#e6e6e6" stroke-width="0.5"/>
<text x="294.50" y="490.00" font-size="5.8" font-weight="bold" text-anchor="middle" fill="#111" textLength="43.60" lengthAdjust="spacingAndGlyphs">Enrichment plot:</text>
<text x="292.80" y="495.60" font-size="5.3" font-weight="bold" text-anchor="middle" fill="#111" textLength="117.60" lengthAdjust="spacingAndGlyphs">GOBP_POSITIVE_REGULATION_OF_MAPK_CASCADE</text>
<rect x="246.50" y="497.50" width="104.50" height="45.80" fill="#fff" stroke="#999" stroke-width="0.4"/>
<line x1="246.50" y1="499.60" x2="351.00" y2="499.60" stroke="#e4e4e4" stroke-width="0.35"/>
<text x="245.30" y="500.70" font-size="3.4" font-weight="bold" text-anchor="end" fill="#333">0.35</text>
<line x1="246.50" y1="504.80" x2="351.00" y2="504.80" stroke="#e4e4e4" stroke-width="0.35"/>
<text x="245.30" y="505.90" font-size="3.4" font-weight="bold" text-anchor="end" fill="#333">0.30</text>
<line x1="246.50" y1="510.00" x2="351.00" y2="510.00" stroke="#e4e4e4" stroke-width="0.35"/>
<text x="245.30" y="511.10" font-size="3.4" font-weight="bold" text-anchor="end" fill="#333">0.25</text>
<line x1="246.50" y1="515.20" x2="351.00" y2="515.20" stroke="#e4e4e4" stroke-width="0.35"/>
<text x="245.30" y="516.30" font-size="3.4" font-weight="bold" text-anchor="end" fill="#333">0.20</text>
<line x1="246.50" y1="520.40" x2="351.00" y2="520.40" stroke="#e4e4e4" stroke-width="0.35"/>
<text x="245.30" y="521.50" font-size="3.4" font-weight="bold" text-anchor="end" fill="#333">0.15</text>
<line x1="246.50" y1="525.60" x2="351.00" y2="525.60" stroke="#e4e4e4" stroke-width="0.35"/>
<text x="245.30" y="526.70" font-size="3.4" font-weight="bold" text-anchor="end" fill="#333">0.10</text>
<line x1="246.50" y1="530.80" x2="351.00" y2="530.80" stroke="#e4e4e4" stroke-width="0.35"/>
<text x="245.30" y="531.90" font-size="3.4" font-weight="bold" text-anchor="end" fill="#333">0.05</text>
<line x1="246.50" y1="536.00" x2="351.00" y2="536.00" stroke="#e4e4e4" stroke-width="0.35"/>
<text x="245.30" y="537.10" font-size="3.4" font-weight="bold" text-anchor="end" fill="#333">0.00</text>
<line x1="246.50" y1="541.20" x2="351.00" y2="541.20" stroke="#e4e4e4" stroke-width="0.35"/>
<text x="245.30" y="542.30" font-size="3.4" font-weight="bold" text-anchor="end" fill="#333">−0.05</text>
<line x1="246.50" y1="497.50" x2="246.50" y2="543.30" stroke="#e4e4e4" stroke-width="0.35"/>
<line x1="259.30" y1="497.50" x2="259.30" y2="543.30" stroke="#e4e4e4" stroke-width="0.35"/>
<line x1="272.10" y1="497.50" x2="272.10" y2="543.30" stroke="#e4e4e4" stroke-width="0.35"/>
<line x1="284.90" y1="497.50" x2="284.90" y2="543.30" stroke="#e4e4e4" stroke-width="0.35"/>
<line x1="297.70" y1="497.50" x2="297.70" y2="543.30" stroke="#e4e4e4" stroke-width="0.35"/>
<line x1="310.50" y1="497.50" x2="310.50" y2="543.30" stroke="#e4e4e4" stroke-width="0.35"/>
<line x1="323.30" y1="497.50" x2="323.30" y2="543.30" stroke="#e4e4e4" stroke-width="0.35"/>
<line x1="336.10" y1="497.50" x2="336.10" y2="543.30" stroke="#e4e4e4" stroke-width="0.35"/>
<line x1="348.90" y1="497.50" x2="348.90" y2="543.30" stroke="#e4e4e4" stroke-width="0.35"/>
<line x1="246.50" y1="536.00" x2="351.00" y2="536.00" stroke="#999" stroke-width="0.4"/>
<path d="M246.5 536.5 L247.3 530.0 L248.2 523.0 L248.8 519.4 L249.4 516.0 L250.3 513.5 L251.2 511.0 L251.8 509.2 L252.4 507.5 L253.3 505.6 L253.9 506.3 L254.6 506.9 L255.2 506.1 L255.8 505.2 L256.6 504.5 L257.3 504.2 L258.1 503.7 L259.0 503.6 L259.9 503.4 L260.7 502.9 L261.5 502.0 L262.4 501.4 L263.2 500.7 L264.0 500.2 L264.7 500.8 L265.4 500.9 L266.2 500.6 L267.0 500.3 L267.9 500.4 L268.7 500.2 L269.4 500.7 L270.0 501.2 L270.7 501.8 L271.4 502.2 L272.2 502.5 L273.0 503.2 L273.6 503.4 L274.2 503.7 L274.8 503.6 L275.5 504.1 L276.1 504.7 L276.8 505.0 L277.5 505.5 L278.1 505.6 L278.8 506.2 L279.5 506.6 L280.1 506.8 L280.8 507.0 L281.5 507.1 L282.2 507.2 L282.9 507.6 L283.5 508.3 L284.2 508.6 L284.9 509.2 L285.5 509.6 L286.2 510.3 L286.9 510.7 L287.6 511.3 L288.3 511.6 L289.1 511.9 L290.0 512.3 L290.7 513.0 L291.4 513.4 L292.0 514.1 L292.7 514.6 L293.4 515.0 L294.1 515.3 L294.7 515.9 L295.4 516.5 L296.0 517.4 L296.7 517.7 L297.4 518.2 L298.0 518.8 L298.7 519.2 L299.3 519.9 L300.0 520.4 L300.7 520.9 L301.4 521.4 L302.1 522.1 L302.8 522.6 L303.5 523.1 L304.2 523.8 L304.9 524.3 L305.6 524.9 L306.3 525.4 L307.0 525.8 L307.6 526.6 L308.3 527.0 L308.9 527.3 L309.6 528.1 L310.2 528.5 L310.9 529.2 L311.6 529.7 L312.2 530.0 L312.9 530.5 L313.6 530.9 L314.3 531.2 L314.9 532.0 L315.6 532.3 L316.2 532.6 L316.9 533.2 L317.5 533.3 L318.2 533.9 L318.9 534.2 L319.6 534.1 L320.3 534.0 L321.0 533.5 L321.6 533.3 L322.3 533.6 L323.0 534.2 L323.6 534.5 L324.3 535.0 L325.0 535.3 L325.6 535.9 L326.3 536.5 L327.0 537.1 L327.7 537.6 L328.4 537.9 L329.1 538.1 L329.7 538.8 L330.4 539.2 L331.1 538.9 L331.7 539.1 L332.4 538.9 L333.1 538.9 L333.7 539.3 L334.4 539.2 L335.1 540.0 L335.8 540.3 L336.5 540.8 L337.1 541.2 L337.8 541.8 L338.5 542.0 L339.1 542.0 L339.8 542.2 L340.8 541.2 L341.8 539.9 L342.8 540.7 L343.8 541.2 L344.5 540.6 L345.2 540.5 L345.9 540.6 L346.5 540.6 L347.1 540.6 L347.8 541.0 L348.5 540.7 L349.2 540.8 L349.6 538.5 L349.9 535.9" fill="none" stroke="#58b62c" stroke-width="1.1" stroke-linejoin="round"/>
<rect x="246.50" y="545.90" width="104.50" height="14.10" fill="#fff"/>
<g shape-rendering="crispEdges">
<line x1="246.71" y1="545.90" x2="246.71" y2="560.00" stroke="#8c8c8c" stroke-width="0.45"/>
<line x1="247.00" y1="545.90" x2="247.00" y2="560.00" stroke="#323232" stroke-width="0.45"/>
<line x1="247.92" y1="545.90" x2="247.92" y2="560.00" stroke="#000000" stroke-width="0.45"/>
<line x1="248.14" y1="545.90" x2="248.14" y2="560.00" stroke="#000000" stroke-width="0.45"/>
<line x1="248.41" y1="545.90" x2="248.41" y2="560.00" stroke="#6e6e6e" stroke-width="0.45"/>
<line x1="248.73" y1="545.90" x2="248.73" y2="560.00" stroke="#8c8c8c" stroke-width="0.45"/>
<line x1="248.81" y1="545.90" x2="248.81" y2="560.00" stroke="#000000" stroke-width="0.45"/>
<line x1="249.08" y1="545.90" x2="249.08" y2="560.00" stroke="#505050" stroke-width="0.45"/>
<line x1="249.45" y1="545.90" x2="249.45" y2="560.00" stroke="#000000" stroke-width="0.45"/>
<line x1="250.05" y1="545.90" x2="250.05" y2="560.00" stroke="#8c8c8c" stroke-width="0.45"/>
<line x1="250.09" y1="545.90" x2="250.09" y2="560.00" stroke="#323232" stroke-width="0.45"/>
<line x1="250.23" y1="545.90" x2="250.23" y2="560.00" stroke="#323232" stroke-width="0.45"/>
<line x1="250.27" y1="545.90" x2="250.27" y2="560.00" stroke="#141414" stroke-width="0.45"/>
<line x1="250.91" y1="545.90" x2="250.91" y2="560.00" stroke="#000000" stroke-width="0.45"/>
<line x1="251.38" y1="545.90" x2="251.38" y2="560.00" stroke="#000000" stroke-width="0.45"/>
<line x1="251.40" y1="545.90" x2="251.40" y2="560.00" stroke="#505050" stroke-width="0.45"/>
<line x1="253.02" y1="545.90" x2="253.02" y2="560.00" stroke="#6e6e6e" stroke-width="0.45"/>
<line x1="254.42" y1="545.90" x2="254.42" y2="560.00" stroke="#323232" stroke-width="0.45"/>
<line x1="254.88" y1="545.90" x2="254.88" y2="560.00" stroke="#8c8c8c" stroke-width="0.45"/>
<line x1="255.30" y1="545.90" x2="255.30" y2="560.00" stroke="#000000" stroke-width="0.45"/>
<line x1="255.37" y1="545.90" x2="255.37" y2="560.00" stroke="#8c8c8c" stroke-width="0.45"/>
<line x1="255.38" y1="545.90" x2="255.38" y2="560.00" stroke="#8c8c8c" stroke-width="0.45"/>
<line x1="255.71" y1="545.90" x2="255.71" y2="560.00" stroke="#8c8c8c" stroke-width="0.45"/>
<line x1="255.74" y1="545.90" x2="255.74" y2="560.00" stroke="#141414" stroke-width="0.45"/>
<line x1="255.84" y1="545.90" x2="255.84" y2="560.00" stroke="#323232" stroke-width="0.45"/>
<line x1="255.96" y1="545.90" x2="255.96" y2="560.00" stroke="#323232" stroke-width="0.45"/>
<line x1="255.97" y1="545.90" x2="255.97" y2="560.00" stroke="#000000" stroke-width="0.45"/>
<line x1="256.25" y1="545.90" x2="256.25" y2="560.00" stroke="#8c8c8c" stroke-width="0.45"/>
<line x1="256.52" y1="545.90" x2="256.52" y2="560.00" stroke="#505050" stroke-width="0.45"/>
<line x1="257.36" y1="545.90" x2="257.36" y2="560.00" stroke="#000000" stroke-width="0.45"/>
<line x1="257.70" y1="545.90" x2="257.70" y2="560.00" stroke="#505050" stroke-width="0.45"/>
<line x1="258.18" y1="545.90" x2="258.18" y2="560.00" stroke="#000000" stroke-width="0.45"/>
<line x1="258.50" y1="545.90" x2="258.50" y2="560.00" stroke="#505050" stroke-width="0.45"/>
<line x1="259.02" y1="545.90" x2="259.02" y2="560.00" stroke="#6e6e6e" stroke-width="0.45"/>
<line x1="259.32" y1="545.90" x2="259.32" y2="560.00" stroke="#141414" stroke-width="0.45"/>
<line x1="259.47" y1="545.90" x2="259.47" y2="560.00" stroke="#969696" stroke-width="0.45"/>
<line x1="262.42" y1="545.90" x2="262.42" y2="560.00" stroke="#aaaaaa" stroke-width="0.45"/>
<line x1="265.24" y1="545.90" x2="265.24" y2="560.00" stroke="#787878" stroke-width="0.45"/>
<line x1="266.24" y1="545.90" x2="266.24" y2="560.00" stroke="#787878" stroke-width="0.45"/>
<line x1="266.93" y1="545.90" x2="266.93" y2="560.00" stroke="#969696" stroke-width="0.45"/>
<line x1="267.14" y1="545.90" x2="267.14" y2="560.00" stroke="#141414" stroke-width="0.45"/>
<line x1="267.29" y1="545.90" x2="267.29" y2="560.00" stroke="#969696" stroke-width="0.45"/>
<line x1="267.49" y1="545.90" x2="267.49" y2="560.00" stroke="#141414" stroke-width="0.45"/>
<line x1="267.53" y1="545.90" x2="267.53" y2="560.00" stroke="#141414" stroke-width="0.45"/>
<line x1="268.36" y1="545.90" x2="268.36" y2="560.00" stroke="#141414" stroke-width="0.45"/>
<line x1="268.65" y1="545.90" x2="268.65" y2="560.00" stroke="#aaaaaa" stroke-width="0.45"/>
<line x1="269.75" y1="545.90" x2="269.75" y2="560.00" stroke="#141414" stroke-width="0.45"/>
<line x1="270.04" y1="545.90" x2="270.04" y2="560.00" stroke="#5a5a5a" stroke-width="0.45"/>
<line x1="271.93" y1="545.90" x2="271.93" y2="560.00" stroke="#787878" stroke-width="0.45"/>
<line x1="273.09" y1="545.90" x2="273.09" y2="560.00" stroke="#aaaaaa" stroke-width="0.45"/>
<line x1="273.10" y1="545.90" x2="273.10" y2="560.00" stroke="#5a5a5a" stroke-width="0.45"/>
<line x1="273.24" y1="545.90" x2="273.24" y2="560.00" stroke="#787878" stroke-width="0.45"/>
<line x1="274.77" y1="545.90" x2="274.77" y2="560.00" stroke="#aaaaaa" stroke-width="0.45"/>
<line x1="275.18" y1="545.90" x2="275.18" y2="560.00" stroke="#aaaaaa" stroke-width="0.45"/>
<line x1="277.74" y1="545.90" x2="277.74" y2="560.00" stroke="#969696" stroke-width="0.45"/>
<line x1="278.08" y1="545.90" x2="278.08" y2="560.00" stroke="#787878" stroke-width="0.45"/>
<line x1="278.13" y1="545.90" x2="278.13" y2="560.00" stroke="#787878" stroke-width="0.45"/>
<line x1="278.81" y1="545.90" x2="278.81" y2="560.00" stroke="#787878" stroke-width="0.45"/>
<line x1="279.85" y1="545.90" x2="279.85" y2="560.00" stroke="#969696" stroke-width="0.45"/>
<line x1="280.07" y1="545.90" x2="280.07" y2="560.00" stroke="#141414" stroke-width="0.45"/>
<line x1="280.14" y1="545.90" x2="280.14" y2="560.00" stroke="#969696" stroke-width="0.45"/>
<line x1="280.42" y1="545.90" x2="280.42" y2="560.00" stroke="#969696" stroke-width="0.45"/>
<line x1="282.77" y1="545.90" x2="282.77" y2="560.00" stroke="#141414" stroke-width="0.45"/>
<line x1="283.81" y1="545.90" x2="283.81" y2="560.00" stroke="#5a5a5a" stroke-width="0.45"/>
<line x1="283.91" y1="545.90" x2="283.91" y2="560.00" stroke="#969696" stroke-width="0.45"/>
<line x1="284.12" y1="545.90" x2="284.12" y2="560.00" stroke="#141414" stroke-width="0.45"/>
<line x1="284.20" y1="545.90" x2="284.20" y2="560.00" stroke="#787878" stroke-width="0.45"/>
<line x1="284.24" y1="545.90" x2="284.24" y2="560.00" stroke="#141414" stroke-width="0.45"/>
<line x1="285.43" y1="545.90" x2="285.43" y2="560.00" stroke="#3c3c3c" stroke-width="0.45"/>
<line x1="285.58" y1="545.90" x2="285.58" y2="560.00" stroke="#aaaaaa" stroke-width="0.45"/>
<line x1="286.21" y1="545.90" x2="286.21" y2="560.00" stroke="#141414" stroke-width="0.45"/>
<line x1="286.66" y1="545.90" x2="286.66" y2="560.00" stroke="#787878" stroke-width="0.45"/>
<line x1="286.83" y1="545.90" x2="286.83" y2="560.00" stroke="#969696" stroke-width="0.45"/>
<line x1="287.84" y1="545.90" x2="287.84" y2="560.00" stroke="#aaaaaa" stroke-width="0.45"/>
<line x1="287.95" y1="545.90" x2="287.95" y2="560.00" stroke="#787878" stroke-width="0.45"/>
<line x1="288.77" y1="545.90" x2="288.77" y2="560.00" stroke="#5a5a5a" stroke-width="0.45"/>
<line x1="288.86" y1="545.90" x2="288.86" y2="560.00" stroke="#141414" stroke-width="0.45"/>
<line x1="289.30" y1="545.90" x2="289.30" y2="560.00" stroke="#5a5a5a" stroke-width="0.45"/>
<line x1="289.49" y1="545.90" x2="289.49" y2="560.00" stroke="#5a5a5a" stroke-width="0.45"/>
<line x1="289.74" y1="545.90" x2="289.74" y2="560.00" stroke="#3c3c3c" stroke-width="0.45"/>
<line x1="292.59" y1="545.90" x2="292.59" y2="560.00" stroke="#aaaaaa" stroke-width="0.45"/>
<line x1="293.95" y1="545.90" x2="293.95" y2="560.00" stroke="#969696" stroke-width="0.45"/>
<line x1="294.26" y1="545.90" x2="294.26" y2="560.00" stroke="#3c3c3c" stroke-width="0.45"/>
<line x1="296.10" y1="545.90" x2="296.10" y2="560.00" stroke="#969696" stroke-width="0.45"/>
<line x1="296.31" y1="545.90" x2="296.31" y2="560.00" stroke="#3c3c3c" stroke-width="0.45"/>
<line x1="296.75" y1="545.90" x2="296.75" y2="560.00" stroke="#5a5a5a" stroke-width="0.45"/>
<line x1="298.44" y1="545.90" x2="298.44" y2="560.00" stroke="#aaaaaa" stroke-width="0.45"/>
<line x1="299.36" y1="545.90" x2="299.36" y2="560.00" stroke="#787878" stroke-width="0.45"/>
<line x1="299.46" y1="545.90" x2="299.46" y2="560.00" stroke="#787878" stroke-width="0.45"/>
<line x1="303.57" y1="545.90" x2="303.57" y2="560.00" stroke="#3c3c3c" stroke-width="0.45"/>
<line x1="303.80" y1="545.90" x2="303.80" y2="560.00" stroke="#5a5a5a" stroke-width="0.45"/>
<line x1="304.09" y1="545.90" x2="304.09" y2="560.00" stroke="#787878" stroke-width="0.45"/>
<line x1="305.50" y1="545.90" x2="305.50" y2="560.00" stroke="#aaaaaa" stroke-width="0.45"/>
<line x1="305.89" y1="545.90" x2="305.89" y2="560.00" stroke="#5a5a5a" stroke-width="0.45"/>
<line x1="306.23" y1="545.90" x2="306.23" y2="560.00" stroke="#3c3c3c" stroke-width="0.45"/>
<line x1="306.31" y1="545.90" x2="306.31" y2="560.00" stroke="#aaaaaa" stroke-width="0.45"/>
<line x1="306.40" y1="545.90" x2="306.40" y2="560.00" stroke="#787878" stroke-width="0.45"/>
<line x1="307.26" y1="545.90" x2="307.26" y2="560.00" stroke="#3c3c3c" stroke-width="0.45"/>
<line x1="307.53" y1="545.90" x2="307.53" y2="560.00" stroke="#3c3c3c" stroke-width="0.45"/>
<line x1="308.45" y1="545.90" x2="308.45" y2="560.00" stroke="#787878" stroke-width="0.45"/>
<line x1="308.91" y1="545.90" x2="308.91" y2="560.00" stroke="#3c3c3c" stroke-width="0.45"/>
<line x1="309.52" y1="545.90" x2="309.52" y2="560.00" stroke="#969696" stroke-width="0.45"/>
<line x1="312.76" y1="545.90" x2="312.76" y2="560.00" stroke="#5a5a5a" stroke-width="0.45"/>
<line x1="313.45" y1="545.90" x2="313.45" y2="560.00" stroke="#3c3c3c" stroke-width="0.45"/>
<line x1="314.35" y1="545.90" x2="314.35" y2="560.00" stroke="#3c3c3c" stroke-width="0.45"/>
<line x1="316.50" y1="545.90" x2="316.50" y2="560.00" stroke="#3c3c3c" stroke-width="0.45"/>
<line x1="316.72" y1="545.90" x2="316.72" y2="560.00" stroke="#787878" stroke-width="0.45"/>
<line x1="316.90" y1="545.90" x2="316.90" y2="560.00" stroke="#5a5a5a" stroke-width="0.45"/>
<line x1="319.51" y1="545.90" x2="319.51" y2="560.00" stroke="#141414" stroke-width="0.45"/>
<line x1="321.41" y1="545.90" x2="321.41" y2="560.00" stroke="#aaaaaa" stroke-width="0.45"/>
<line x1="321.74" y1="545.90" x2="321.74" y2="560.00" stroke="#141414" stroke-width="0.45"/>
<line x1="321.98" y1="545.90" x2="321.98" y2="560.00" stroke="#5a5a5a" stroke-width="0.45"/>
<line x1="323.52" y1="545.90" x2="323.52" y2="560.00" stroke="#3c3c3c" stroke-width="0.45"/>
<line x1="326.79" y1="545.90" x2="326.79" y2="560.00" stroke="#141414" stroke-width="0.45"/>
<line x1="327.05" y1="545.90" x2="327.05" y2="560.00" stroke="#787878" stroke-width="0.45"/>
<line x1="330.64" y1="545.90" x2="330.64" y2="560.00" stroke="#787878" stroke-width="0.45"/>
<line x1="331.93" y1="545.90" x2="331.93" y2="560.00" stroke="#5a5a5a" stroke-width="0.45"/>
<line x1="332.48" y1="545.90" x2="332.48" y2="560.00" stroke="#3c3c3c" stroke-width="0.45"/>
<line x1="332.81" y1="545.90" x2="332.81" y2="560.00" stroke="#787878" stroke-width="0.45"/>
<line x1="332.88" y1="545.90" x2="332.88" y2="560.00" stroke="#787878" stroke-width="0.45"/>
<line x1="332.90" y1="545.90" x2="332.90" y2="560.00" stroke="#aaaaaa" stroke-width="0.45"/>
<line x1="334.87" y1="545.90" x2="334.87" y2="560.00" stroke="#969696" stroke-width="0.45"/>
<line x1="335.04" y1="545.90" x2="335.04" y2="560.00" stroke="#787878" stroke-width="0.45"/>
<line x1="335.77" y1="545.90" x2="335.77" y2="560.00" stroke="#aaaaaa" stroke-width="0.45"/>
<line x1="335.95" y1="545.90" x2="335.95" y2="560.00" stroke="#5a5a5a" stroke-width="0.45"/>
<line x1="336.99" y1="545.90" x2="336.99" y2="560.00" stroke="#aaaaaa" stroke-width="0.45"/>
<line x1="337.53" y1="545.90" x2="337.53" y2="560.00" stroke="#969696" stroke-width="0.45"/>
<line x1="337.74" y1="545.90" x2="337.74" y2="560.00" stroke="#787878" stroke-width="0.45"/>
<line x1="337.86" y1="545.90" x2="337.86" y2="560.00" stroke="#5a5a5a" stroke-width="0.45"/>
<line x1="338.62" y1="545.90" x2="338.62" y2="560.00" stroke="#141414" stroke-width="0.45"/>
<line x1="338.66" y1="545.90" x2="338.66" y2="560.00" stroke="#141414" stroke-width="0.45"/>
<line x1="338.82" y1="545.90" x2="338.82" y2="560.00" stroke="#5a5a5a" stroke-width="0.45"/>
<line x1="339.31" y1="545.90" x2="339.31" y2="560.00" stroke="#969696" stroke-width="0.45"/>
<line x1="340.46" y1="545.90" x2="340.46" y2="560.00" stroke="#141414" stroke-width="0.45"/>
<line x1="341.03" y1="545.90" x2="341.03" y2="560.00" stroke="#aaaaaa" stroke-width="0.45"/>
<line x1="341.23" y1="545.90" x2="341.23" y2="560.00" stroke="#aaaaaa" stroke-width="0.45"/>
<line x1="342.72" y1="545.90" x2="342.72" y2="560.00" stroke="#5a5a5a" stroke-width="0.45"/>
<line x1="342.86" y1="545.90" x2="342.86" y2="560.00" stroke="#969696" stroke-width="0.45"/>
<line x1="342.87" y1="545.90" x2="342.87" y2="560.00" stroke="#5a5a5a" stroke-width="0.45"/>
<line x1="343.06" y1="545.90" x2="343.06" y2="560.00" stroke="#5a5a5a" stroke-width="0.45"/>
<line x1="343.41" y1="545.90" x2="343.41" y2="560.00" stroke="#aaaaaa" stroke-width="0.45"/>
<line x1="343.45" y1="545.90" x2="343.45" y2="560.00" stroke="#969696" stroke-width="0.45"/>
<line x1="343.57" y1="545.90" x2="343.57" y2="560.00" stroke="#141414" stroke-width="0.45"/>
<line x1="343.84" y1="545.90" x2="343.84" y2="560.00" stroke="#aaaaaa" stroke-width="0.45"/>
<line x1="344.35" y1="545.90" x2="344.35" y2="560.00" stroke="#3c3c3c" stroke-width="0.45"/>
<line x1="344.44" y1="545.90" x2="344.44" y2="560.00" stroke="#787878" stroke-width="0.45"/>
<line x1="344.71" y1="545.90" x2="344.71" y2="560.00" stroke="#787878" stroke-width="0.45"/>
<line x1="346.04" y1="545.90" x2="346.04" y2="560.00" stroke="#3c3c3c" stroke-width="0.45"/>
<line x1="348.40" y1="545.90" x2="348.40" y2="560.00" stroke="#141414" stroke-width="0.45"/>
<line x1="349.04" y1="545.90" x2="349.04" y2="560.00" stroke="#5a5a5a" stroke-width="0.45"/>
<line x1="349.75" y1="545.90" x2="349.75" y2="560.00" stroke="#3c3c3c" stroke-width="0.45"/>
<line x1="350.27" y1="545.90" x2="350.27" y2="560.00" stroke="#3c3c3c" stroke-width="0.45"/>
<line x1="350.36" y1="545.90" x2="350.36" y2="560.00" stroke="#141414" stroke-width="0.45"/>
<line x1="350.38" y1="545.90" x2="350.38" y2="560.00" stroke="#aaaaaa" stroke-width="0.45"/>
<line x1="350.40" y1="545.90" x2="350.40" y2="560.00" stroke="#141414" stroke-width="0.45"/>
</g>
<defs><linearGradient id="gF" x1="0" y1="0" x2="1" y2="0"><stop offset="0" stop-color="#e62020"/><stop offset="0.25" stop-color="#ee5050"/><stop offset="0.42" stop-color="#f4b0b8"/><stop offset="0.56" stop-color="#e8e0ee"/><stop offset="0.7" stop-color="#b4b4e0"/><stop offset="0.84" stop-color="#5c5cc0"/><stop offset="1" stop-color="#2c2ca4"/></linearGradient></defs>
<rect x="246.50" y="560.00" width="104.50" height="4.60" fill="url(#gF)"/>
<text x="248.00" y="567.80" font-size="2.9" fill="#e02020" textLength="35.70" lengthAdjust="spacingAndGlyphs">'na_pos' (positively correlated)</text>
<rect x="246.50" y="568.90" width="104.50" height="26.90" fill="#fff" stroke="#999" stroke-width="0.4"/>
<line x1="246.50" y1="569.30" x2="351.00" y2="569.30" stroke="#e4e4e4" stroke-width="0.35"/>
<text x="245.00" y="570.40" font-size="3.4" font-weight="bold" text-anchor="end" fill="#333">4</text>
<line x1="246.50" y1="575.15" x2="351.00" y2="575.15" stroke="#e4e4e4" stroke-width="0.35"/>
<text x="245.00" y="576.25" font-size="3.4" font-weight="bold" text-anchor="end" fill="#333">2</text>
<line x1="246.50" y1="581.00" x2="351.00" y2="581.00" stroke="#e4e4e4" stroke-width="0.35"/>
<text x="245.00" y="582.10" font-size="3.4" font-weight="bold" text-anchor="end" fill="#333">0</text>
<line x1="246.50" y1="586.85" x2="351.00" y2="586.85" stroke="#e4e4e4" stroke-width="0.35"/>
<text x="245.00" y="587.95" font-size="3.4" font-weight="bold" text-anchor="end" fill="#333">−2</text>
<line x1="246.50" y1="592.70" x2="351.00" y2="592.70" stroke="#e4e4e4" stroke-width="0.35"/>
<text x="245.00" y="593.80" font-size="3.4" font-weight="bold" text-anchor="end" fill="#333">−4</text>
<line x1="246.50" y1="568.90" x2="246.50" y2="595.80" stroke="#e4e4e4" stroke-width="0.35"/>
<line x1="259.30" y1="568.90" x2="259.30" y2="595.80" stroke="#e4e4e4" stroke-width="0.35"/>
<line x1="272.10" y1="568.90" x2="272.10" y2="595.80" stroke="#e4e4e4" stroke-width="0.35"/>
<line x1="284.90" y1="568.90" x2="284.90" y2="595.80" stroke="#e4e4e4" stroke-width="0.35"/>
<line x1="297.70" y1="568.90" x2="297.70" y2="595.80" stroke="#e4e4e4" stroke-width="0.35"/>
<line x1="310.50" y1="568.90" x2="310.50" y2="595.80" stroke="#e4e4e4" stroke-width="0.35"/>
<line x1="323.30" y1="568.90" x2="323.30" y2="595.80" stroke="#e4e4e4" stroke-width="0.35"/>
<line x1="336.10" y1="568.90" x2="336.10" y2="595.80" stroke="#e4e4e4" stroke-width="0.35"/>
<line x1="348.90" y1="568.90" x2="348.90" y2="595.80" stroke="#e4e4e4" stroke-width="0.35"/>
<path d="M246.5 581.0 L246.5 566.8 L247.4 569.9 L248.2 572.1 L249.1 573.7 L249.9 574.8 L250.8 575.7 L251.7 576.3 L252.5 576.7 L253.4 577.1 L254.2 577.4 L255.1 577.6 L256.0 577.8 L256.8 578.0 L257.7 578.1 L258.5 578.3 L259.4 578.4 L260.3 578.5 L261.1 578.6 L262.0 578.7 L262.8 578.8 L263.7 578.9 L264.6 579.0 L265.4 579.1 L266.3 579.2 L267.1 579.2 L268.0 579.3 L268.9 579.4 L269.7 579.5 L270.6 579.5 L271.4 579.6 L272.3 579.6 L273.2 579.7 L274.0 579.8 L274.9 579.8 L275.7 579.9 L276.6 579.9 L277.5 580.0 L278.3 580.0 L279.2 580.1 L280.0 580.1 L280.9 580.1 L281.8 580.2 L282.6 580.2 L283.5 580.3 L284.3 580.3 L285.2 580.3 L286.1 580.4 L286.9 580.4 L287.8 580.5 L288.6 580.5 L289.5 580.5 L290.4 580.5 L291.2 580.6 L292.1 580.6 L292.9 580.6 L293.8 580.7 L294.7 580.7 L295.5 580.7 L296.4 580.8 L297.2 580.8 L298.1 580.8 L299.0 581.0 L299.8 581.1 L300.7 581.1 L301.5 581.1 L302.4 581.1 L303.3 581.2 L304.1 581.2 L305.0 581.2 L305.8 581.2 L306.7 581.3 L307.6 581.3 L308.4 581.3 L309.3 581.3 L310.1 581.4 L311.0 581.4 L311.9 581.4 L312.7 581.5 L313.6 581.5 L314.4 581.5 L315.3 581.5 L316.2 581.6 L317.0 581.6 L317.9 581.6 L318.7 581.6 L319.6 581.7 L320.5 581.7 L321.3 581.7 L322.2 581.8 L323.0 581.8 L323.9 581.8 L324.8 581.8 L325.6 581.9 L326.5 581.9 L327.3 581.9 L328.2 581.9 L329.1 582.0 L329.9 582.0 L330.8 582.0 L331.6 582.1 L332.5 582.1 L333.4 582.1 L334.2 582.1 L335.1 582.2 L335.9 582.2 L336.8 582.2 L337.7 582.3 L338.5 582.3 L339.4 582.4 L340.2 582.4 L341.1 582.5 L342.0 582.5 L342.8 582.6 L343.7 582.7 L344.5 582.8 L345.4 582.9 L346.3 583.0 L347.1 583.2 L348.0 583.5 L348.8 584.1 L349.7 585.8 L349.7 581.0Z" fill="#c9c9c9" stroke="#aaa" stroke-width="0.25"/>
<text x="297.70" y="581.00" font-size="2.7" text-anchor="middle" fill="#999">Zero cross at 2023</text>
<text x="301.00" y="593.90" font-size="2.8" fill="#3030c0" textLength="38.40" lengthAdjust="spacingAndGlyphs">'na_neg' (negatively correlated)</text>
<text x="246.50" y="599.70" font-size="3.3" font-weight="bold" text-anchor="middle" fill="#333">0</text>
<text x="259.30" y="599.70" font-size="3.3" font-weight="bold" text-anchor="middle" fill="#333">500</text>
<text x="272.10" y="599.70" font-size="3.3" font-weight="bold" text-anchor="middle" fill="#333">1,000</text>
<text x="284.90" y="599.70" font-size="3.3" font-weight="bold" text-anchor="middle" fill="#333">1,500</text>
<text x="297.70" y="599.70" font-size="3.3" font-weight="bold" text-anchor="middle" fill="#333">2,000</text>
<text x="310.50" y="599.70" font-size="3.3" font-weight="bold" text-anchor="middle" fill="#333">2,500</text>
<text x="323.30" y="599.70" font-size="3.3" font-weight="bold" text-anchor="middle" fill="#333">3,000</text>
<text x="336.10" y="599.70" font-size="3.3" font-weight="bold" text-anchor="middle" fill="#333">3,500</text>
<text x="348.90" y="599.70" font-size="3.3" font-weight="bold" text-anchor="middle" fill="#333">4,000</text>
<text x="297.70" y="603.20" font-size="3.2" font-weight="bold" text-anchor="middle" fill="#222">Rank in Ordered Dataset</text>
<text x="238.20" y="520.40" font-size="3.2" font-weight="bold" text-anchor="middle" fill="#222" transform="rotate(-90 238.20 520.40)">Enrichment score (ES)</text>
<text x="238.20" y="582.50" font-size="3.0" font-weight="bold" text-anchor="middle" fill="#222" transform="rotate(-90 238.20 582.50)">Ranked list metric (PreRanked)</text>
<rect x="248.00" y="606.10" width="91.70" height="5.20" fill="#fdfdf4" stroke="#c4bc5c" stroke-width="0.5"/>
<line x1="249.50" y1="608.80" x2="252.50" y2="608.80" stroke="#58b62c" stroke-width="0.8"/>
<text x="253.30" y="609.80" font-size="3.2" fill="#222" textLength="27.00" lengthAdjust="spacingAndGlyphs">Enrichment profile</text>
<line x1="282.30" y1="608.80" x2="285.50" y2="608.80" stroke="#222" stroke-width="0.6"/>
<text x="286.50" y="609.80" font-size="3.2" fill="#222" textLength="5.80" lengthAdjust="spacingAndGlyphs">Hits</text>
<line x1="300.50" y1="608.80" x2="304.50" y2="608.80" stroke="#bbb" stroke-width="0.8"/>
<text x="305.80" y="609.80" font-size="3.2" fill="#222" textLength="31.00" lengthAdjust="spacingAndGlyphs">Ranking metric scores</text>
<text x="377.10" y="471.20" font-size="12.3" font-weight="bold" textLength="9.95" lengthAdjust="spacingAndGlyphs" stroke="#000" stroke-width="0.3">G</text>
<text x="403.00" y="479.35" font-size="10.2" font-weight="bold" textLength="102.60" lengthAdjust="spacingAndGlyphs">MAPK pathway genes</text>
<line x1="403.00" y1="481.15" x2="505.60" y2="481.15" stroke="#222" stroke-width="0.7"/>
<rect x="408.30" y="502.40" width="90.10" height="75.10" fill="#e6e6e6"/>
<line x1="408.30" y1="521.50" x2="498.40" y2="521.50" stroke="#f0f0f0" stroke-width="0.4"/>
<line x1="408.30" y1="536.50" x2="498.40" y2="536.50" stroke="#f0f0f0" stroke-width="0.4"/>
<line x1="408.30" y1="551.20" x2="498.40" y2="551.20" stroke="#f0f0f0" stroke-width="0.4"/>
<line x1="408.30" y1="565.60" x2="498.40" y2="565.60" stroke="#f0f0f0" stroke-width="0.4"/>
<line x1="408.30" y1="506.70" x2="498.40" y2="506.70" stroke="#f0f0f0" stroke-width="0.4"/>
<line x1="408.30" y1="514.00" x2="498.40" y2="514.00" stroke="#f7f7f7" stroke-width="0.7"/>
<line x1="408.30" y1="529.00" x2="498.40" y2="529.00" stroke="#f7f7f7" stroke-width="0.7"/>
<line x1="408.30" y1="544.00" x2="498.40" y2="544.00" stroke="#f7f7f7" stroke-width="0.7"/>
<line x1="408.30" y1="558.40" x2="498.40" y2="558.40" stroke="#f7f7f7" stroke-width="0.7"/>
<line x1="408.30" y1="572.80" x2="498.40" y2="572.80" stroke="#f7f7f7" stroke-width="0.7"/>
<line x1="433.20" y1="502.40" x2="433.20" y2="577.50" stroke="#f7f7f7" stroke-width="0.7"/>
<line x1="473.60" y1="502.40" x2="473.60" y2="577.50" stroke="#f7f7f7" stroke-width="0.7"/>
<line x1="433.20" y1="558.40" x2="433.20" y2="574.50" stroke="#666" stroke-width="0.6"/>
<rect x="417.60" y="563.00" width="30.90" height="8.60" fill="#2b3f9e" stroke="#1c2660" stroke-width="0.4"/>
<line x1="417.60" y1="566.30" x2="448.50" y2="566.30" stroke="#1c2660" stroke-width="0.6"/>
<line x1="473.60" y1="505.00" x2="473.60" y2="545.40" stroke="#666" stroke-width="0.6"/>
<rect x="458.00" y="507.90" width="31.10" height="20.50" fill="#ee2226" stroke="#8a1a1a" stroke-width="0.5"/>
<rect x="458.20" y="508.10" width="30.70" height="3.20" fill="#c51f25"/>
<line x1="458.00" y1="511.50" x2="489.10" y2="511.50" stroke="#5a1010" stroke-width="0.7"/>
<text x="405.90" y="516.10" font-size="5.9" font-weight="bold" text-anchor="end" fill="#111" stroke="#111" stroke-width="0.18">1</text>
<text x="405.90" y="531.10" font-size="5.9" font-weight="bold" text-anchor="end" fill="#111" stroke="#111" stroke-width="0.18">0.5</text>
<text x="405.90" y="546.10" font-size="5.9" font-weight="bold" text-anchor="end" fill="#111" stroke="#111" stroke-width="0.18">0</text>
<text x="405.90" y="560.50" font-size="5.9" font-weight="bold" text-anchor="end" fill="#111" stroke="#111" stroke-width="0.18">-0.5</text>
<text x="405.90" y="574.90" font-size="5.9" font-weight="bold" text-anchor="end" fill="#111" stroke="#111" stroke-width="0.18">-1</text>
<text x="433.30" y="589.30" font-size="7.8" font-weight="bold" text-anchor="middle" fill="#111" textLength="14.20" lengthAdjust="spacingAndGlyphs" stroke="#111" stroke-width="0.3">Con</text>
<text x="474.00" y="589.30" font-size="7.8" font-weight="bold" text-anchor="middle" fill="#111" textLength="23.60" lengthAdjust="spacingAndGlyphs" stroke="#111" stroke-width="0.3">WU-12</text>
<text x="422.8" y="506.2" font-size="4.1" fill="#222" textLength="30.8" lengthAdjust="spacingAndGlyphs">T-test <tspan font-style="italic">P</tspan> = 0.051</text>
<text x="382.90" y="542.20" font-size="7.2" font-weight="bold" text-anchor="middle" fill="#111" textLength="68.00" lengthAdjust="spacingAndGlyphs" transform="rotate(-90 382.90 542.20)" stroke="#111" stroke-width="0.18">MAPK cascade genes</text>
<text x="390.30" y="542.20" font-size="7.2" text-anchor="middle" textLength="67.00" lengthAdjust="spacingAndGlyphs" transform="rotate(-90 390.30 542.20)" stroke="#111" stroke-width="0.25">normalized singscore</text>
</svg></body></html>
